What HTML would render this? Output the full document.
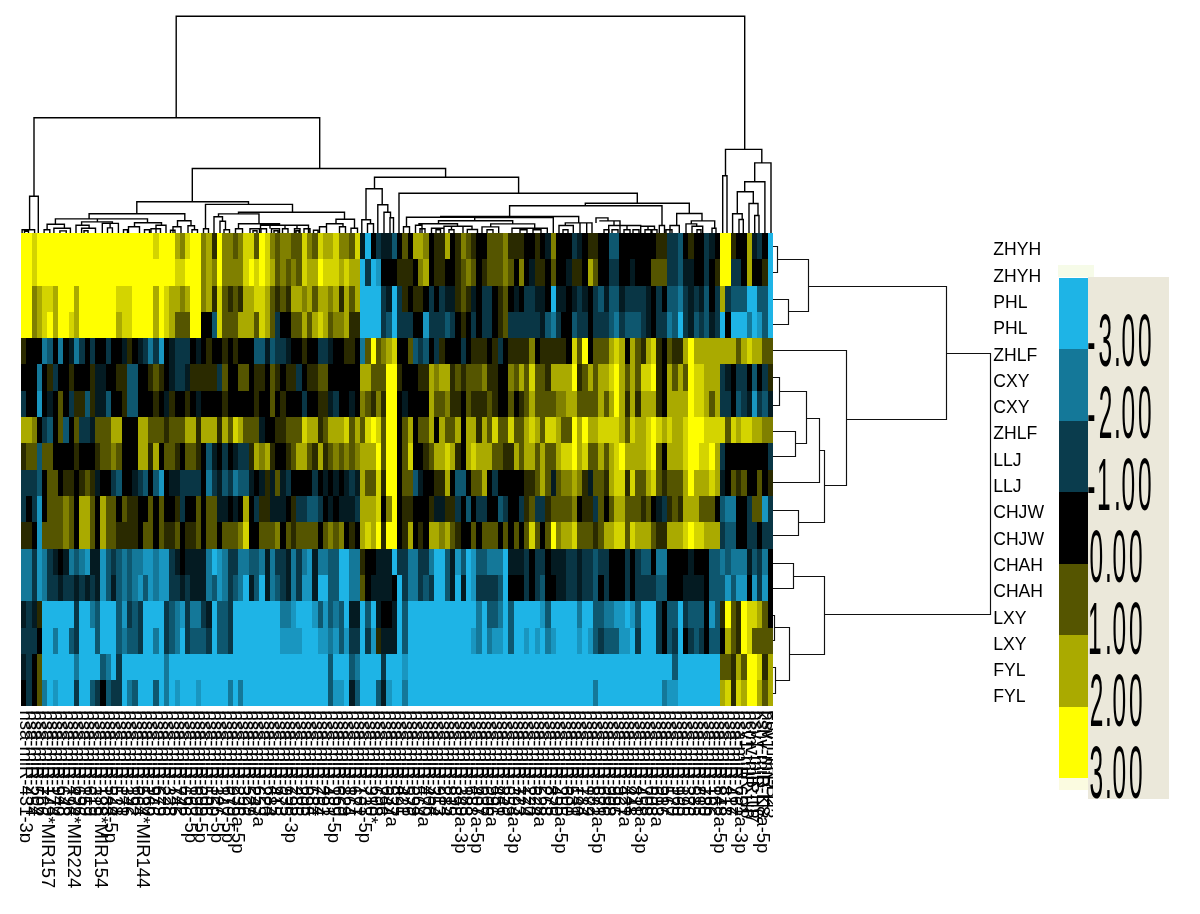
<!DOCTYPE html><html><head><meta charset="utf-8"><title>Heatmap</title><style>html,body{margin:0;padding:0;background:#fff;}body{width:1200px;height:914px;overflow:hidden;position:relative;}svg{position:absolute;left:0;top:0;}text{font-family:"Liberation Sans",Arial,sans-serif;}</style></head><body>
<svg width="1200" height="914" viewBox="0 0 1200 914">
<defs><clipPath id="lc"><rect x="20" y="705" width="753" height="200"/></clipPath></defs>
<g shape-rendering="crispEdges">
<rect x="21" y="233" width="11" height="26" fill="#ffff00"/>
<rect x="32" y="233" width="5" height="26" fill="#d4d400"/>
<rect x="37" y="233" width="116" height="26" fill="#ffff00"/>
<rect x="153" y="233" width="6" height="26" fill="#d4d400"/>
<rect x="159" y="233" width="16" height="26" fill="#ffff00"/>
<rect x="175" y="233" width="5" height="26" fill="#aaaa00"/>
<rect x="180" y="233" width="5" height="26" fill="#808000"/>
<rect x="185" y="233" width="5" height="26" fill="#d4d400"/>
<rect x="190" y="233" width="11" height="26" fill="#ffff00"/>
<rect x="201" y="233" width="5" height="26" fill="#808000"/>
<rect x="206" y="233" width="6" height="26" fill="#aaaa00"/>
<rect x="212" y="233" width="5" height="26" fill="#2a2a00"/>
<rect x="217" y="233" width="5" height="26" fill="#ffff00"/>
<rect x="222" y="233" width="11" height="26" fill="#808000"/>
<rect x="233" y="233" width="5" height="26" fill="#555500"/>
<rect x="238" y="233" width="5" height="26" fill="#808000"/>
<rect x="243" y="233" width="11" height="26" fill="#d4d400"/>
<rect x="254" y="233" width="5" height="26" fill="#555500"/>
<rect x="259" y="233" width="6" height="26" fill="#ffff00"/>
<rect x="265" y="233" width="5" height="26" fill="#d4d400"/>
<rect x="270" y="233" width="5" height="26" fill="#808000"/>
<rect x="275" y="233" width="5" height="26" fill="#555500"/>
<rect x="280" y="233" width="11" height="26" fill="#808000"/>
<rect x="291" y="233" width="11" height="26" fill="#555500"/>
<rect x="302" y="233" width="5" height="26" fill="#d4d400"/>
<rect x="307" y="233" width="5" height="26" fill="#808000"/>
<rect x="312" y="233" width="6" height="26" fill="#555500"/>
<rect x="318" y="233" width="5" height="26" fill="#d4d400"/>
<rect x="323" y="233" width="10" height="26" fill="#aaaa00"/>
<rect x="333" y="233" width="6" height="26" fill="#d4d400"/>
<rect x="339" y="233" width="10" height="26" fill="#808000"/>
<rect x="349" y="233" width="6" height="26" fill="#555500"/>
<rect x="355" y="233" width="5" height="26" fill="#d4d400"/>
<rect x="360" y="233" width="5" height="26" fill="#041b22"/>
<rect x="365" y="233" width="6" height="26" fill="#1eb4e6"/>
<rect x="371" y="233" width="5" height="26" fill="#000000"/>
<rect x="376" y="233" width="5" height="26" fill="#093645"/>
<rect x="381" y="233" width="11" height="26" fill="#041b22"/>
<rect x="392" y="233" width="5" height="26" fill="#0e576f"/>
<rect x="397" y="233" width="5" height="26" fill="#000000"/>
<rect x="402" y="233" width="6" height="26" fill="#555500"/>
<rect x="408" y="233" width="5" height="26" fill="#000000"/>
<rect x="413" y="233" width="10" height="26" fill="#aaaa00"/>
<rect x="423" y="233" width="6" height="26" fill="#808000"/>
<rect x="429" y="233" width="5" height="26" fill="#000000"/>
<rect x="434" y="233" width="11" height="26" fill="#2a2a00"/>
<rect x="445" y="233" width="5" height="26" fill="#aaaa00"/>
<rect x="450" y="233" width="5" height="26" fill="#000000"/>
<rect x="455" y="233" width="6" height="26" fill="#2a2a00"/>
<rect x="461" y="233" width="5" height="26" fill="#808000"/>
<rect x="466" y="233" width="5" height="26" fill="#555500"/>
<rect x="471" y="233" width="5" height="26" fill="#2a2a00"/>
<rect x="476" y="233" width="11" height="26" fill="#000000"/>
<rect x="487" y="233" width="16" height="26" fill="#555500"/>
<rect x="503" y="233" width="5" height="26" fill="#808000"/>
<rect x="508" y="233" width="16" height="26" fill="#2a2a00"/>
<rect x="524" y="233" width="11" height="26" fill="#000000"/>
<rect x="535" y="233" width="5" height="26" fill="#2a2a00"/>
<rect x="540" y="233" width="5" height="26" fill="#000000"/>
<rect x="545" y="233" width="6" height="26" fill="#041b22"/>
<rect x="551" y="233" width="5" height="26" fill="#808000"/>
<rect x="556" y="233" width="16" height="26" fill="#000000"/>
<rect x="572" y="233" width="5" height="26" fill="#093645"/>
<rect x="577" y="233" width="5" height="26" fill="#041b22"/>
<rect x="582" y="233" width="6" height="26" fill="#000000"/>
<rect x="588" y="233" width="10" height="26" fill="#2a2a00"/>
<rect x="598" y="233" width="11" height="26" fill="#000000"/>
<rect x="609" y="233" width="10" height="26" fill="#0e576f"/>
<rect x="619" y="233" width="37" height="26" fill="#000000"/>
<rect x="656" y="233" width="11" height="26" fill="#2a2a00"/>
<rect x="667" y="233" width="11" height="26" fill="#093645"/>
<rect x="678" y="233" width="5" height="26" fill="#0e576f"/>
<rect x="683" y="233" width="5" height="26" fill="#000000"/>
<rect x="688" y="233" width="6" height="26" fill="#2a2a00"/>
<rect x="694" y="233" width="10" height="26" fill="#000000"/>
<rect x="704" y="233" width="5" height="26" fill="#093645"/>
<rect x="709" y="233" width="6" height="26" fill="#041b22"/>
<rect x="715" y="233" width="5" height="26" fill="#000000"/>
<rect x="720" y="233" width="11" height="26" fill="#ffff00"/>
<rect x="731" y="233" width="5" height="26" fill="#2a2a00"/>
<rect x="736" y="233" width="11" height="26" fill="#000000"/>
<rect x="747" y="233" width="5" height="26" fill="#aaaa00"/>
<rect x="752" y="233" width="5" height="26" fill="#041b22"/>
<rect x="757" y="233" width="5" height="26" fill="#093645"/>
<rect x="762" y="233" width="6" height="26" fill="#000000"/>
<rect x="768" y="233" width="5" height="26" fill="#1eb4e6"/>
<rect x="21" y="259" width="11" height="27" fill="#ffff00"/>
<rect x="32" y="259" width="5" height="27" fill="#d4d400"/>
<rect x="37" y="259" width="138" height="27" fill="#ffff00"/>
<rect x="175" y="259" width="10" height="27" fill="#d4d400"/>
<rect x="185" y="259" width="16" height="27" fill="#ffff00"/>
<rect x="201" y="259" width="5" height="27" fill="#808000"/>
<rect x="206" y="259" width="6" height="27" fill="#aaaa00"/>
<rect x="212" y="259" width="5" height="27" fill="#808000"/>
<rect x="217" y="259" width="5" height="27" fill="#ffff00"/>
<rect x="222" y="259" width="21" height="27" fill="#808000"/>
<rect x="243" y="259" width="6" height="27" fill="#d4d400"/>
<rect x="249" y="259" width="5" height="27" fill="#ffff00"/>
<rect x="254" y="259" width="5" height="27" fill="#d4d400"/>
<rect x="259" y="259" width="6" height="27" fill="#ffff00"/>
<rect x="265" y="259" width="5" height="27" fill="#d4d400"/>
<rect x="270" y="259" width="5" height="27" fill="#aaaa00"/>
<rect x="275" y="259" width="5" height="27" fill="#555500"/>
<rect x="280" y="259" width="6" height="27" fill="#808000"/>
<rect x="286" y="259" width="5" height="27" fill="#555500"/>
<rect x="291" y="259" width="5" height="27" fill="#808000"/>
<rect x="296" y="259" width="6" height="27" fill="#555500"/>
<rect x="302" y="259" width="5" height="27" fill="#d4d400"/>
<rect x="307" y="259" width="11" height="27" fill="#aaaa00"/>
<rect x="318" y="259" width="5" height="27" fill="#ffff00"/>
<rect x="323" y="259" width="16" height="27" fill="#d4d400"/>
<rect x="339" y="259" width="5" height="27" fill="#aaaa00"/>
<rect x="344" y="259" width="5" height="27" fill="#d4d400"/>
<rect x="349" y="259" width="11" height="27" fill="#aaaa00"/>
<rect x="360" y="259" width="5" height="27" fill="#1eb4e6"/>
<rect x="365" y="259" width="6" height="27" fill="#093645"/>
<rect x="371" y="259" width="5" height="27" fill="#1eb4e6"/>
<rect x="376" y="259" width="5" height="27" fill="#1996c0"/>
<rect x="381" y="259" width="16" height="27" fill="#000000"/>
<rect x="397" y="259" width="16" height="27" fill="#2a2a00"/>
<rect x="413" y="259" width="5" height="27" fill="#000000"/>
<rect x="418" y="259" width="5" height="27" fill="#808000"/>
<rect x="423" y="259" width="6" height="27" fill="#aaaa00"/>
<rect x="429" y="259" width="5" height="27" fill="#000000"/>
<rect x="434" y="259" width="11" height="27" fill="#2a2a00"/>
<rect x="445" y="259" width="10" height="27" fill="#000000"/>
<rect x="455" y="259" width="6" height="27" fill="#2a2a00"/>
<rect x="461" y="259" width="5" height="27" fill="#555500"/>
<rect x="466" y="259" width="5" height="27" fill="#808000"/>
<rect x="471" y="259" width="5" height="27" fill="#555500"/>
<rect x="476" y="259" width="6" height="27" fill="#000000"/>
<rect x="482" y="259" width="5" height="27" fill="#2a2a00"/>
<rect x="487" y="259" width="16" height="27" fill="#555500"/>
<rect x="503" y="259" width="5" height="27" fill="#808000"/>
<rect x="508" y="259" width="6" height="27" fill="#555500"/>
<rect x="514" y="259" width="5" height="27" fill="#000000"/>
<rect x="519" y="259" width="5" height="27" fill="#808000"/>
<rect x="524" y="259" width="5" height="27" fill="#000000"/>
<rect x="529" y="259" width="6" height="27" fill="#041b22"/>
<rect x="535" y="259" width="10" height="27" fill="#2a2a00"/>
<rect x="545" y="259" width="6" height="27" fill="#000000"/>
<rect x="551" y="259" width="5" height="27" fill="#555500"/>
<rect x="556" y="259" width="10" height="27" fill="#000000"/>
<rect x="566" y="259" width="6" height="27" fill="#041b22"/>
<rect x="572" y="259" width="10" height="27" fill="#2a2a00"/>
<rect x="582" y="259" width="6" height="27" fill="#000000"/>
<rect x="588" y="259" width="5" height="27" fill="#aaaa00"/>
<rect x="593" y="259" width="5" height="27" fill="#555500"/>
<rect x="598" y="259" width="11" height="27" fill="#000000"/>
<rect x="609" y="259" width="10" height="27" fill="#093645"/>
<rect x="619" y="259" width="11" height="27" fill="#000000"/>
<rect x="630" y="259" width="5" height="27" fill="#041b22"/>
<rect x="635" y="259" width="16" height="27" fill="#000000"/>
<rect x="651" y="259" width="16" height="27" fill="#555500"/>
<rect x="667" y="259" width="11" height="27" fill="#093645"/>
<rect x="678" y="259" width="5" height="27" fill="#0e576f"/>
<rect x="683" y="259" width="11" height="27" fill="#041b22"/>
<rect x="694" y="259" width="10" height="27" fill="#000000"/>
<rect x="704" y="259" width="5" height="27" fill="#093645"/>
<rect x="709" y="259" width="6" height="27" fill="#000000"/>
<rect x="715" y="259" width="5" height="27" fill="#2a2a00"/>
<rect x="720" y="259" width="11" height="27" fill="#ffff00"/>
<rect x="731" y="259" width="10" height="27" fill="#093645"/>
<rect x="741" y="259" width="6" height="27" fill="#000000"/>
<rect x="747" y="259" width="5" height="27" fill="#aaaa00"/>
<rect x="752" y="259" width="10" height="27" fill="#000000"/>
<rect x="762" y="259" width="6" height="27" fill="#2a2a00"/>
<rect x="768" y="259" width="5" height="27" fill="#1eb4e6"/>
<rect x="21" y="286" width="11" height="26" fill="#ffff00"/>
<rect x="32" y="286" width="5" height="26" fill="#808000"/>
<rect x="37" y="286" width="5" height="26" fill="#aaaa00"/>
<rect x="42" y="286" width="11" height="26" fill="#d4d400"/>
<rect x="53" y="286" width="5" height="26" fill="#aaaa00"/>
<rect x="58" y="286" width="16" height="26" fill="#ffff00"/>
<rect x="74" y="286" width="5" height="26" fill="#aaaa00"/>
<rect x="79" y="286" width="37" height="26" fill="#ffff00"/>
<rect x="116" y="286" width="16" height="26" fill="#d4d400"/>
<rect x="132" y="286" width="21" height="26" fill="#ffff00"/>
<rect x="153" y="286" width="6" height="26" fill="#aaaa00"/>
<rect x="159" y="286" width="5" height="26" fill="#ffff00"/>
<rect x="164" y="286" width="5" height="26" fill="#d4d400"/>
<rect x="169" y="286" width="11" height="26" fill="#aaaa00"/>
<rect x="180" y="286" width="5" height="26" fill="#808000"/>
<rect x="185" y="286" width="5" height="26" fill="#aaaa00"/>
<rect x="190" y="286" width="11" height="26" fill="#ffff00"/>
<rect x="201" y="286" width="5" height="26" fill="#808000"/>
<rect x="206" y="286" width="6" height="26" fill="#aaaa00"/>
<rect x="212" y="286" width="5" height="26" fill="#2a2a00"/>
<rect x="217" y="286" width="5" height="26" fill="#d4d400"/>
<rect x="222" y="286" width="6" height="26" fill="#555500"/>
<rect x="228" y="286" width="5" height="26" fill="#2a2a00"/>
<rect x="233" y="286" width="5" height="26" fill="#555500"/>
<rect x="238" y="286" width="5" height="26" fill="#2a2a00"/>
<rect x="243" y="286" width="11" height="26" fill="#aaaa00"/>
<rect x="254" y="286" width="11" height="26" fill="#d4d400"/>
<rect x="265" y="286" width="5" height="26" fill="#aaaa00"/>
<rect x="270" y="286" width="5" height="26" fill="#555500"/>
<rect x="275" y="286" width="5" height="26" fill="#2a2a00"/>
<rect x="280" y="286" width="6" height="26" fill="#555500"/>
<rect x="286" y="286" width="5" height="26" fill="#2a2a00"/>
<rect x="291" y="286" width="11" height="26" fill="#aaaa00"/>
<rect x="302" y="286" width="5" height="26" fill="#808000"/>
<rect x="307" y="286" width="5" height="26" fill="#aaaa00"/>
<rect x="312" y="286" width="6" height="26" fill="#555500"/>
<rect x="318" y="286" width="10" height="26" fill="#aaaa00"/>
<rect x="328" y="286" width="5" height="26" fill="#808000"/>
<rect x="333" y="286" width="6" height="26" fill="#aaaa00"/>
<rect x="339" y="286" width="5" height="26" fill="#2a2a00"/>
<rect x="344" y="286" width="5" height="26" fill="#aaaa00"/>
<rect x="349" y="286" width="6" height="26" fill="#555500"/>
<rect x="355" y="286" width="5" height="26" fill="#aaaa00"/>
<rect x="360" y="286" width="21" height="26" fill="#1eb4e6"/>
<rect x="381" y="286" width="5" height="26" fill="#093645"/>
<rect x="386" y="286" width="6" height="26" fill="#041b22"/>
<rect x="392" y="286" width="5" height="26" fill="#1eb4e6"/>
<rect x="397" y="286" width="5" height="26" fill="#093645"/>
<rect x="402" y="286" width="6" height="26" fill="#2a2a00"/>
<rect x="408" y="286" width="5" height="26" fill="#000000"/>
<rect x="413" y="286" width="10" height="26" fill="#2a2a00"/>
<rect x="423" y="286" width="6" height="26" fill="#000000"/>
<rect x="429" y="286" width="5" height="26" fill="#093645"/>
<rect x="434" y="286" width="5" height="26" fill="#000000"/>
<rect x="439" y="286" width="6" height="26" fill="#093645"/>
<rect x="445" y="286" width="10" height="26" fill="#041b22"/>
<rect x="455" y="286" width="6" height="26" fill="#2a2a00"/>
<rect x="461" y="286" width="5" height="26" fill="#555500"/>
<rect x="466" y="286" width="5" height="26" fill="#2a2a00"/>
<rect x="471" y="286" width="5" height="26" fill="#041b22"/>
<rect x="476" y="286" width="6" height="26" fill="#000000"/>
<rect x="482" y="286" width="10" height="26" fill="#093645"/>
<rect x="492" y="286" width="6" height="26" fill="#000000"/>
<rect x="498" y="286" width="5" height="26" fill="#2a2a00"/>
<rect x="503" y="286" width="5" height="26" fill="#555500"/>
<rect x="508" y="286" width="6" height="26" fill="#000000"/>
<rect x="514" y="286" width="5" height="26" fill="#041b22"/>
<rect x="519" y="286" width="5" height="26" fill="#000000"/>
<rect x="524" y="286" width="11" height="26" fill="#093645"/>
<rect x="535" y="286" width="10" height="26" fill="#041b22"/>
<rect x="545" y="286" width="6" height="26" fill="#000000"/>
<rect x="551" y="286" width="5" height="26" fill="#1eb4e6"/>
<rect x="556" y="286" width="10" height="26" fill="#041b22"/>
<rect x="566" y="286" width="6" height="26" fill="#000000"/>
<rect x="572" y="286" width="5" height="26" fill="#041b22"/>
<rect x="577" y="286" width="5" height="26" fill="#093645"/>
<rect x="582" y="286" width="6" height="26" fill="#041b22"/>
<rect x="588" y="286" width="5" height="26" fill="#000000"/>
<rect x="593" y="286" width="5" height="26" fill="#093645"/>
<rect x="598" y="286" width="6" height="26" fill="#0e576f"/>
<rect x="604" y="286" width="5" height="26" fill="#041b22"/>
<rect x="609" y="286" width="10" height="26" fill="#0e576f"/>
<rect x="619" y="286" width="6" height="26" fill="#041b22"/>
<rect x="625" y="286" width="21" height="26" fill="#093645"/>
<rect x="646" y="286" width="5" height="26" fill="#041b22"/>
<rect x="651" y="286" width="5" height="26" fill="#000000"/>
<rect x="656" y="286" width="6" height="26" fill="#093645"/>
<rect x="662" y="286" width="5" height="26" fill="#000000"/>
<rect x="667" y="286" width="11" height="26" fill="#0e576f"/>
<rect x="678" y="286" width="5" height="26" fill="#147899"/>
<rect x="683" y="286" width="5" height="26" fill="#093645"/>
<rect x="688" y="286" width="6" height="26" fill="#041b22"/>
<rect x="694" y="286" width="5" height="26" fill="#093645"/>
<rect x="699" y="286" width="5" height="26" fill="#041b22"/>
<rect x="704" y="286" width="5" height="26" fill="#0e576f"/>
<rect x="709" y="286" width="6" height="26" fill="#000000"/>
<rect x="715" y="286" width="5" height="26" fill="#093645"/>
<rect x="720" y="286" width="5" height="26" fill="#aaaa00"/>
<rect x="725" y="286" width="6" height="26" fill="#093645"/>
<rect x="731" y="286" width="16" height="26" fill="#0e576f"/>
<rect x="747" y="286" width="10" height="26" fill="#1eb4e6"/>
<rect x="757" y="286" width="11" height="26" fill="#0e576f"/>
<rect x="768" y="286" width="5" height="26" fill="#1eb4e6"/>
<rect x="21" y="312" width="11" height="26" fill="#ffff00"/>
<rect x="32" y="312" width="5" height="26" fill="#808000"/>
<rect x="37" y="312" width="5" height="26" fill="#aaaa00"/>
<rect x="42" y="312" width="5" height="26" fill="#d4d400"/>
<rect x="47" y="312" width="6" height="26" fill="#ffff00"/>
<rect x="53" y="312" width="5" height="26" fill="#aaaa00"/>
<rect x="58" y="312" width="11" height="26" fill="#ffff00"/>
<rect x="69" y="312" width="5" height="26" fill="#d4d400"/>
<rect x="74" y="312" width="5" height="26" fill="#aaaa00"/>
<rect x="79" y="312" width="37" height="26" fill="#ffff00"/>
<rect x="116" y="312" width="6" height="26" fill="#aaaa00"/>
<rect x="122" y="312" width="10" height="26" fill="#d4d400"/>
<rect x="132" y="312" width="21" height="26" fill="#ffff00"/>
<rect x="153" y="312" width="6" height="26" fill="#aaaa00"/>
<rect x="159" y="312" width="5" height="26" fill="#ffff00"/>
<rect x="164" y="312" width="5" height="26" fill="#d4d400"/>
<rect x="169" y="312" width="6" height="26" fill="#aaaa00"/>
<rect x="175" y="312" width="15" height="26" fill="#555500"/>
<rect x="190" y="312" width="11" height="26" fill="#ffff00"/>
<rect x="201" y="312" width="11" height="26" fill="#000000"/>
<rect x="212" y="312" width="5" height="26" fill="#0e576f"/>
<rect x="217" y="312" width="5" height="26" fill="#d4d400"/>
<rect x="222" y="312" width="16" height="26" fill="#555500"/>
<rect x="238" y="312" width="16" height="26" fill="#aaaa00"/>
<rect x="254" y="312" width="5" height="26" fill="#555500"/>
<rect x="259" y="312" width="6" height="26" fill="#d4d400"/>
<rect x="265" y="312" width="5" height="26" fill="#aaaa00"/>
<rect x="270" y="312" width="5" height="26" fill="#555500"/>
<rect x="275" y="312" width="5" height="26" fill="#093645"/>
<rect x="280" y="312" width="11" height="26" fill="#000000"/>
<rect x="291" y="312" width="11" height="26" fill="#555500"/>
<rect x="302" y="312" width="5" height="26" fill="#aaaa00"/>
<rect x="307" y="312" width="5" height="26" fill="#555500"/>
<rect x="312" y="312" width="6" height="26" fill="#aaaa00"/>
<rect x="318" y="312" width="5" height="26" fill="#d4d400"/>
<rect x="323" y="312" width="5" height="26" fill="#aaaa00"/>
<rect x="328" y="312" width="5" height="26" fill="#555500"/>
<rect x="333" y="312" width="11" height="26" fill="#808000"/>
<rect x="344" y="312" width="5" height="26" fill="#aaaa00"/>
<rect x="349" y="312" width="11" height="26" fill="#2a2a00"/>
<rect x="360" y="312" width="21" height="26" fill="#1eb4e6"/>
<rect x="381" y="312" width="5" height="26" fill="#093645"/>
<rect x="386" y="312" width="6" height="26" fill="#0e576f"/>
<rect x="392" y="312" width="5" height="26" fill="#1eb4e6"/>
<rect x="397" y="312" width="16" height="26" fill="#093645"/>
<rect x="413" y="312" width="10" height="26" fill="#000000"/>
<rect x="423" y="312" width="6" height="26" fill="#1996c0"/>
<rect x="429" y="312" width="16" height="26" fill="#093645"/>
<rect x="445" y="312" width="5" height="26" fill="#0e576f"/>
<rect x="450" y="312" width="5" height="26" fill="#093645"/>
<rect x="455" y="312" width="6" height="26" fill="#000000"/>
<rect x="461" y="312" width="5" height="26" fill="#2a2a00"/>
<rect x="466" y="312" width="5" height="26" fill="#000000"/>
<rect x="471" y="312" width="5" height="26" fill="#093645"/>
<rect x="476" y="312" width="6" height="26" fill="#000000"/>
<rect x="482" y="312" width="10" height="26" fill="#093645"/>
<rect x="492" y="312" width="6" height="26" fill="#000000"/>
<rect x="498" y="312" width="5" height="26" fill="#2a2a00"/>
<rect x="503" y="312" width="5" height="26" fill="#555500"/>
<rect x="508" y="312" width="32" height="26" fill="#093645"/>
<rect x="540" y="312" width="5" height="26" fill="#041b22"/>
<rect x="545" y="312" width="6" height="26" fill="#0e576f"/>
<rect x="551" y="312" width="5" height="26" fill="#147899"/>
<rect x="556" y="312" width="5" height="26" fill="#093645"/>
<rect x="561" y="312" width="11" height="26" fill="#000000"/>
<rect x="572" y="312" width="5" height="26" fill="#0e576f"/>
<rect x="577" y="312" width="11" height="26" fill="#093645"/>
<rect x="588" y="312" width="5" height="26" fill="#000000"/>
<rect x="593" y="312" width="16" height="26" fill="#093645"/>
<rect x="609" y="312" width="5" height="26" fill="#0e576f"/>
<rect x="614" y="312" width="5" height="26" fill="#147899"/>
<rect x="619" y="312" width="6" height="26" fill="#093645"/>
<rect x="625" y="312" width="16" height="26" fill="#0e576f"/>
<rect x="641" y="312" width="5" height="26" fill="#093645"/>
<rect x="646" y="312" width="5" height="26" fill="#041b22"/>
<rect x="651" y="312" width="5" height="26" fill="#000000"/>
<rect x="656" y="312" width="11" height="26" fill="#093645"/>
<rect x="667" y="312" width="5" height="26" fill="#147899"/>
<rect x="672" y="312" width="6" height="26" fill="#0e576f"/>
<rect x="678" y="312" width="5" height="26" fill="#1eb4e6"/>
<rect x="683" y="312" width="5" height="26" fill="#093645"/>
<rect x="688" y="312" width="6" height="26" fill="#041b22"/>
<rect x="694" y="312" width="5" height="26" fill="#0e576f"/>
<rect x="699" y="312" width="5" height="26" fill="#093645"/>
<rect x="704" y="312" width="5" height="26" fill="#0e576f"/>
<rect x="709" y="312" width="6" height="26" fill="#041b22"/>
<rect x="715" y="312" width="5" height="26" fill="#093645"/>
<rect x="720" y="312" width="5" height="26" fill="#1eb4e6"/>
<rect x="725" y="312" width="6" height="26" fill="#000000"/>
<rect x="731" y="312" width="16" height="26" fill="#1eb4e6"/>
<rect x="747" y="312" width="5" height="26" fill="#147899"/>
<rect x="752" y="312" width="5" height="26" fill="#1eb4e6"/>
<rect x="757" y="312" width="5" height="26" fill="#1996c0"/>
<rect x="762" y="312" width="6" height="26" fill="#0e576f"/>
<rect x="768" y="312" width="5" height="26" fill="#1eb4e6"/>
<rect x="21" y="338" width="5" height="26" fill="#2a2a00"/>
<rect x="26" y="338" width="16" height="26" fill="#000000"/>
<rect x="42" y="338" width="5" height="26" fill="#147899"/>
<rect x="47" y="338" width="6" height="26" fill="#0e576f"/>
<rect x="53" y="338" width="5" height="26" fill="#000000"/>
<rect x="58" y="338" width="5" height="26" fill="#147899"/>
<rect x="63" y="338" width="6" height="26" fill="#000000"/>
<rect x="69" y="338" width="5" height="26" fill="#041b22"/>
<rect x="74" y="338" width="5" height="26" fill="#147899"/>
<rect x="79" y="338" width="6" height="26" fill="#093645"/>
<rect x="85" y="338" width="5" height="26" fill="#000000"/>
<rect x="90" y="338" width="5" height="26" fill="#093645"/>
<rect x="95" y="338" width="11" height="26" fill="#000000"/>
<rect x="106" y="338" width="5" height="26" fill="#093645"/>
<rect x="111" y="338" width="11" height="26" fill="#000000"/>
<rect x="122" y="338" width="5" height="26" fill="#041b22"/>
<rect x="127" y="338" width="5" height="26" fill="#2a2a00"/>
<rect x="132" y="338" width="6" height="26" fill="#000000"/>
<rect x="138" y="338" width="5" height="26" fill="#041b22"/>
<rect x="143" y="338" width="5" height="26" fill="#093645"/>
<rect x="148" y="338" width="5" height="26" fill="#147899"/>
<rect x="153" y="338" width="6" height="26" fill="#093645"/>
<rect x="159" y="338" width="5" height="26" fill="#1996c0"/>
<rect x="164" y="338" width="5" height="26" fill="#000000"/>
<rect x="169" y="338" width="6" height="26" fill="#041b22"/>
<rect x="175" y="338" width="15" height="26" fill="#093645"/>
<rect x="190" y="338" width="6" height="26" fill="#000000"/>
<rect x="196" y="338" width="5" height="26" fill="#041b22"/>
<rect x="201" y="338" width="5" height="26" fill="#000000"/>
<rect x="206" y="338" width="6" height="26" fill="#2a2a00"/>
<rect x="212" y="338" width="10" height="26" fill="#000000"/>
<rect x="222" y="338" width="6" height="26" fill="#2a2a00"/>
<rect x="228" y="338" width="5" height="26" fill="#000000"/>
<rect x="233" y="338" width="5" height="26" fill="#2a2a00"/>
<rect x="238" y="338" width="16" height="26" fill="#000000"/>
<rect x="254" y="338" width="11" height="26" fill="#0e576f"/>
<rect x="265" y="338" width="5" height="26" fill="#041b22"/>
<rect x="270" y="338" width="5" height="26" fill="#0e576f"/>
<rect x="275" y="338" width="11" height="26" fill="#093645"/>
<rect x="286" y="338" width="5" height="26" fill="#041b22"/>
<rect x="291" y="338" width="11" height="26" fill="#000000"/>
<rect x="302" y="338" width="5" height="26" fill="#2a2a00"/>
<rect x="307" y="338" width="11" height="26" fill="#000000"/>
<rect x="318" y="338" width="10" height="26" fill="#093645"/>
<rect x="328" y="338" width="5" height="26" fill="#041b22"/>
<rect x="333" y="338" width="11" height="26" fill="#000000"/>
<rect x="344" y="338" width="11" height="26" fill="#2a2a00"/>
<rect x="355" y="338" width="5" height="26" fill="#000000"/>
<rect x="360" y="338" width="5" height="26" fill="#147899"/>
<rect x="365" y="338" width="6" height="26" fill="#555500"/>
<rect x="371" y="338" width="5" height="26" fill="#ffff00"/>
<rect x="376" y="338" width="5" height="26" fill="#555500"/>
<rect x="381" y="338" width="5" height="26" fill="#808000"/>
<rect x="386" y="338" width="6" height="26" fill="#aaaa00"/>
<rect x="392" y="338" width="5" height="26" fill="#d4d400"/>
<rect x="397" y="338" width="11" height="26" fill="#000000"/>
<rect x="408" y="338" width="5" height="26" fill="#555500"/>
<rect x="413" y="338" width="5" height="26" fill="#0e576f"/>
<rect x="418" y="338" width="5" height="26" fill="#093645"/>
<rect x="423" y="338" width="6" height="26" fill="#0e576f"/>
<rect x="429" y="338" width="5" height="26" fill="#000000"/>
<rect x="434" y="338" width="5" height="26" fill="#093645"/>
<rect x="439" y="338" width="6" height="26" fill="#2a2a00"/>
<rect x="445" y="338" width="16" height="26" fill="#000000"/>
<rect x="461" y="338" width="5" height="26" fill="#093645"/>
<rect x="466" y="338" width="5" height="26" fill="#000000"/>
<rect x="471" y="338" width="16" height="26" fill="#2a2a00"/>
<rect x="487" y="338" width="5" height="26" fill="#000000"/>
<rect x="492" y="338" width="6" height="26" fill="#2a2a00"/>
<rect x="498" y="338" width="5" height="26" fill="#093645"/>
<rect x="503" y="338" width="5" height="26" fill="#000000"/>
<rect x="508" y="338" width="21" height="26" fill="#2a2a00"/>
<rect x="529" y="338" width="6" height="26" fill="#808000"/>
<rect x="535" y="338" width="5" height="26" fill="#000000"/>
<rect x="540" y="338" width="26" height="26" fill="#2a2a00"/>
<rect x="566" y="338" width="6" height="26" fill="#000000"/>
<rect x="572" y="338" width="5" height="26" fill="#d4d400"/>
<rect x="577" y="338" width="5" height="26" fill="#555500"/>
<rect x="582" y="338" width="6" height="26" fill="#ffff00"/>
<rect x="588" y="338" width="5" height="26" fill="#000000"/>
<rect x="593" y="338" width="16" height="26" fill="#555500"/>
<rect x="609" y="338" width="5" height="26" fill="#aaaa00"/>
<rect x="614" y="338" width="5" height="26" fill="#d4d400"/>
<rect x="619" y="338" width="6" height="26" fill="#aaaa00"/>
<rect x="625" y="338" width="5" height="26" fill="#000000"/>
<rect x="630" y="338" width="5" height="26" fill="#aaaa00"/>
<rect x="635" y="338" width="6" height="26" fill="#555500"/>
<rect x="641" y="338" width="5" height="26" fill="#2a2a00"/>
<rect x="646" y="338" width="5" height="26" fill="#aaaa00"/>
<rect x="651" y="338" width="5" height="26" fill="#d4d400"/>
<rect x="656" y="338" width="6" height="26" fill="#2a2a00"/>
<rect x="662" y="338" width="5" height="26" fill="#000000"/>
<rect x="667" y="338" width="5" height="26" fill="#555500"/>
<rect x="672" y="338" width="11" height="26" fill="#2a2a00"/>
<rect x="683" y="338" width="5" height="26" fill="#aaaa00"/>
<rect x="688" y="338" width="6" height="26" fill="#ffff00"/>
<rect x="694" y="338" width="42" height="26" fill="#aaaa00"/>
<rect x="736" y="338" width="5" height="26" fill="#555500"/>
<rect x="741" y="338" width="6" height="26" fill="#aaaa00"/>
<rect x="747" y="338" width="5" height="26" fill="#d4d400"/>
<rect x="752" y="338" width="10" height="26" fill="#aaaa00"/>
<rect x="762" y="338" width="11" height="26" fill="#555500"/>
<rect x="21" y="364" width="16" height="27" fill="#000000"/>
<rect x="37" y="364" width="5" height="27" fill="#147899"/>
<rect x="42" y="364" width="5" height="27" fill="#000000"/>
<rect x="47" y="364" width="6" height="27" fill="#2a2a00"/>
<rect x="53" y="364" width="5" height="27" fill="#093645"/>
<rect x="58" y="364" width="11" height="27" fill="#000000"/>
<rect x="69" y="364" width="5" height="27" fill="#2a2a00"/>
<rect x="74" y="364" width="16" height="27" fill="#000000"/>
<rect x="90" y="364" width="5" height="27" fill="#2a2a00"/>
<rect x="95" y="364" width="11" height="27" fill="#041b22"/>
<rect x="106" y="364" width="10" height="27" fill="#000000"/>
<rect x="116" y="364" width="11" height="27" fill="#2a2a00"/>
<rect x="127" y="364" width="11" height="27" fill="#0e576f"/>
<rect x="138" y="364" width="10" height="27" fill="#000000"/>
<rect x="148" y="364" width="5" height="27" fill="#2a2a00"/>
<rect x="153" y="364" width="6" height="27" fill="#555500"/>
<rect x="159" y="364" width="5" height="27" fill="#2a2a00"/>
<rect x="164" y="364" width="5" height="27" fill="#000000"/>
<rect x="169" y="364" width="6" height="27" fill="#041b22"/>
<rect x="175" y="364" width="10" height="27" fill="#093645"/>
<rect x="185" y="364" width="5" height="27" fill="#041b22"/>
<rect x="190" y="364" width="27" height="27" fill="#2a2a00"/>
<rect x="217" y="364" width="5" height="27" fill="#093645"/>
<rect x="222" y="364" width="6" height="27" fill="#555500"/>
<rect x="228" y="364" width="10" height="27" fill="#000000"/>
<rect x="238" y="364" width="11" height="27" fill="#555500"/>
<rect x="249" y="364" width="5" height="27" fill="#000000"/>
<rect x="254" y="364" width="11" height="27" fill="#2a2a00"/>
<rect x="265" y="364" width="5" height="27" fill="#000000"/>
<rect x="270" y="364" width="5" height="27" fill="#555500"/>
<rect x="275" y="364" width="5" height="27" fill="#2a2a00"/>
<rect x="280" y="364" width="6" height="27" fill="#000000"/>
<rect x="286" y="364" width="10" height="27" fill="#2a2a00"/>
<rect x="296" y="364" width="6" height="27" fill="#093645"/>
<rect x="302" y="364" width="5" height="27" fill="#000000"/>
<rect x="307" y="364" width="11" height="27" fill="#2a2a00"/>
<rect x="318" y="364" width="10" height="27" fill="#555500"/>
<rect x="328" y="364" width="32" height="27" fill="#000000"/>
<rect x="360" y="364" width="11" height="27" fill="#aaaa00"/>
<rect x="371" y="364" width="15" height="27" fill="#555500"/>
<rect x="386" y="364" width="11" height="27" fill="#ffff00"/>
<rect x="397" y="364" width="5" height="27" fill="#2a2a00"/>
<rect x="402" y="364" width="16" height="27" fill="#000000"/>
<rect x="418" y="364" width="11" height="27" fill="#2a2a00"/>
<rect x="429" y="364" width="5" height="27" fill="#aaaa00"/>
<rect x="434" y="364" width="5" height="27" fill="#808000"/>
<rect x="439" y="364" width="11" height="27" fill="#aaaa00"/>
<rect x="450" y="364" width="5" height="27" fill="#2a2a00"/>
<rect x="455" y="364" width="6" height="27" fill="#555500"/>
<rect x="461" y="364" width="5" height="27" fill="#2a2a00"/>
<rect x="466" y="364" width="16" height="27" fill="#555500"/>
<rect x="482" y="364" width="5" height="27" fill="#808000"/>
<rect x="487" y="364" width="11" height="27" fill="#2a2a00"/>
<rect x="498" y="364" width="10" height="27" fill="#000000"/>
<rect x="508" y="364" width="6" height="27" fill="#808000"/>
<rect x="514" y="364" width="5" height="27" fill="#555500"/>
<rect x="519" y="364" width="5" height="27" fill="#aaaa00"/>
<rect x="524" y="364" width="5" height="27" fill="#555500"/>
<rect x="529" y="364" width="6" height="27" fill="#d4d400"/>
<rect x="535" y="364" width="10" height="27" fill="#555500"/>
<rect x="545" y="364" width="6" height="27" fill="#2a2a00"/>
<rect x="551" y="364" width="21" height="27" fill="#aaaa00"/>
<rect x="572" y="364" width="5" height="27" fill="#ffff00"/>
<rect x="577" y="364" width="5" height="27" fill="#2a2a00"/>
<rect x="582" y="364" width="6" height="27" fill="#555500"/>
<rect x="588" y="364" width="5" height="27" fill="#aaaa00"/>
<rect x="593" y="364" width="5" height="27" fill="#555500"/>
<rect x="598" y="364" width="11" height="27" fill="#aaaa00"/>
<rect x="609" y="364" width="5" height="27" fill="#d4d400"/>
<rect x="614" y="364" width="5" height="27" fill="#ffff00"/>
<rect x="619" y="364" width="6" height="27" fill="#aaaa00"/>
<rect x="625" y="364" width="5" height="27" fill="#555500"/>
<rect x="630" y="364" width="5" height="27" fill="#aaaa00"/>
<rect x="635" y="364" width="6" height="27" fill="#555500"/>
<rect x="641" y="364" width="10" height="27" fill="#d4d400"/>
<rect x="651" y="364" width="5" height="27" fill="#ffff00"/>
<rect x="656" y="364" width="6" height="27" fill="#2a2a00"/>
<rect x="662" y="364" width="5" height="27" fill="#000000"/>
<rect x="667" y="364" width="5" height="27" fill="#aaaa00"/>
<rect x="672" y="364" width="6" height="27" fill="#555500"/>
<rect x="678" y="364" width="5" height="27" fill="#aaaa00"/>
<rect x="683" y="364" width="5" height="27" fill="#555500"/>
<rect x="688" y="364" width="6" height="27" fill="#ffff00"/>
<rect x="694" y="364" width="10" height="27" fill="#d4d400"/>
<rect x="704" y="364" width="16" height="27" fill="#aaaa00"/>
<rect x="720" y="364" width="5" height="27" fill="#093645"/>
<rect x="725" y="364" width="6" height="27" fill="#041b22"/>
<rect x="731" y="364" width="5" height="27" fill="#000000"/>
<rect x="736" y="364" width="11" height="27" fill="#093645"/>
<rect x="747" y="364" width="5" height="27" fill="#000000"/>
<rect x="752" y="364" width="5" height="27" fill="#0e576f"/>
<rect x="757" y="364" width="5" height="27" fill="#000000"/>
<rect x="762" y="364" width="6" height="27" fill="#093645"/>
<rect x="768" y="364" width="5" height="27" fill="#2a2a00"/>
<rect x="21" y="391" width="5" height="26" fill="#093645"/>
<rect x="26" y="391" width="11" height="26" fill="#000000"/>
<rect x="37" y="391" width="5" height="26" fill="#1996c0"/>
<rect x="42" y="391" width="5" height="26" fill="#000000"/>
<rect x="47" y="391" width="6" height="26" fill="#041b22"/>
<rect x="53" y="391" width="5" height="26" fill="#000000"/>
<rect x="58" y="391" width="5" height="26" fill="#555500"/>
<rect x="63" y="391" width="6" height="26" fill="#000000"/>
<rect x="69" y="391" width="5" height="26" fill="#093645"/>
<rect x="74" y="391" width="11" height="26" fill="#2a2a00"/>
<rect x="85" y="391" width="5" height="26" fill="#0e576f"/>
<rect x="90" y="391" width="5" height="26" fill="#2a2a00"/>
<rect x="95" y="391" width="11" height="26" fill="#041b22"/>
<rect x="106" y="391" width="5" height="26" fill="#0e576f"/>
<rect x="111" y="391" width="11" height="26" fill="#000000"/>
<rect x="122" y="391" width="5" height="26" fill="#2a2a00"/>
<rect x="127" y="391" width="11" height="26" fill="#0e576f"/>
<rect x="138" y="391" width="15" height="26" fill="#000000"/>
<rect x="153" y="391" width="6" height="26" fill="#2a2a00"/>
<rect x="159" y="391" width="5" height="26" fill="#000000"/>
<rect x="164" y="391" width="5" height="26" fill="#041b22"/>
<rect x="169" y="391" width="6" height="26" fill="#2a2a00"/>
<rect x="175" y="391" width="10" height="26" fill="#000000"/>
<rect x="185" y="391" width="5" height="26" fill="#2a2a00"/>
<rect x="190" y="391" width="6" height="26" fill="#000000"/>
<rect x="196" y="391" width="5" height="26" fill="#041b22"/>
<rect x="201" y="391" width="21" height="26" fill="#000000"/>
<rect x="222" y="391" width="6" height="26" fill="#2a2a00"/>
<rect x="228" y="391" width="26" height="26" fill="#000000"/>
<rect x="254" y="391" width="5" height="26" fill="#2a2a00"/>
<rect x="259" y="391" width="11" height="26" fill="#000000"/>
<rect x="270" y="391" width="5" height="26" fill="#555500"/>
<rect x="275" y="391" width="5" height="26" fill="#000000"/>
<rect x="280" y="391" width="6" height="26" fill="#2a2a00"/>
<rect x="286" y="391" width="16" height="26" fill="#000000"/>
<rect x="302" y="391" width="5" height="26" fill="#093645"/>
<rect x="307" y="391" width="11" height="26" fill="#000000"/>
<rect x="318" y="391" width="10" height="26" fill="#2a2a00"/>
<rect x="328" y="391" width="5" height="26" fill="#041b22"/>
<rect x="333" y="391" width="6" height="26" fill="#093645"/>
<rect x="339" y="391" width="10" height="26" fill="#000000"/>
<rect x="349" y="391" width="6" height="26" fill="#041b22"/>
<rect x="355" y="391" width="5" height="26" fill="#000000"/>
<rect x="360" y="391" width="5" height="26" fill="#808000"/>
<rect x="365" y="391" width="6" height="26" fill="#555500"/>
<rect x="371" y="391" width="5" height="26" fill="#2a2a00"/>
<rect x="376" y="391" width="5" height="26" fill="#808000"/>
<rect x="381" y="391" width="5" height="26" fill="#2a2a00"/>
<rect x="386" y="391" width="11" height="26" fill="#ffff00"/>
<rect x="397" y="391" width="5" height="26" fill="#000000"/>
<rect x="402" y="391" width="6" height="26" fill="#041b22"/>
<rect x="408" y="391" width="21" height="26" fill="#000000"/>
<rect x="429" y="391" width="5" height="26" fill="#aaaa00"/>
<rect x="434" y="391" width="11" height="26" fill="#555500"/>
<rect x="445" y="391" width="5" height="26" fill="#808000"/>
<rect x="450" y="391" width="11" height="26" fill="#2a2a00"/>
<rect x="461" y="391" width="5" height="26" fill="#000000"/>
<rect x="466" y="391" width="5" height="26" fill="#555500"/>
<rect x="471" y="391" width="16" height="26" fill="#2a2a00"/>
<rect x="487" y="391" width="5" height="26" fill="#555500"/>
<rect x="492" y="391" width="6" height="26" fill="#2a2a00"/>
<rect x="498" y="391" width="10" height="26" fill="#000000"/>
<rect x="508" y="391" width="6" height="26" fill="#555500"/>
<rect x="514" y="391" width="5" height="26" fill="#000000"/>
<rect x="519" y="391" width="5" height="26" fill="#2a2a00"/>
<rect x="524" y="391" width="5" height="26" fill="#555500"/>
<rect x="529" y="391" width="6" height="26" fill="#aaaa00"/>
<rect x="535" y="391" width="21" height="26" fill="#555500"/>
<rect x="556" y="391" width="10" height="26" fill="#808000"/>
<rect x="566" y="391" width="11" height="26" fill="#aaaa00"/>
<rect x="577" y="391" width="21" height="26" fill="#555500"/>
<rect x="598" y="391" width="6" height="26" fill="#aaaa00"/>
<rect x="604" y="391" width="5" height="26" fill="#555500"/>
<rect x="609" y="391" width="5" height="26" fill="#aaaa00"/>
<rect x="614" y="391" width="5" height="26" fill="#ffff00"/>
<rect x="619" y="391" width="6" height="26" fill="#aaaa00"/>
<rect x="625" y="391" width="5" height="26" fill="#2a2a00"/>
<rect x="630" y="391" width="5" height="26" fill="#aaaa00"/>
<rect x="635" y="391" width="6" height="26" fill="#2a2a00"/>
<rect x="641" y="391" width="15" height="26" fill="#aaaa00"/>
<rect x="656" y="391" width="6" height="26" fill="#2a2a00"/>
<rect x="662" y="391" width="5" height="26" fill="#000000"/>
<rect x="667" y="391" width="21" height="26" fill="#aaaa00"/>
<rect x="688" y="391" width="6" height="26" fill="#ffff00"/>
<rect x="694" y="391" width="10" height="26" fill="#d4d400"/>
<rect x="704" y="391" width="5" height="26" fill="#aaaa00"/>
<rect x="709" y="391" width="6" height="26" fill="#555500"/>
<rect x="715" y="391" width="5" height="26" fill="#aaaa00"/>
<rect x="720" y="391" width="11" height="26" fill="#093645"/>
<rect x="731" y="391" width="5" height="26" fill="#000000"/>
<rect x="736" y="391" width="5" height="26" fill="#0e576f"/>
<rect x="741" y="391" width="6" height="26" fill="#093645"/>
<rect x="747" y="391" width="5" height="26" fill="#041b22"/>
<rect x="752" y="391" width="5" height="26" fill="#1996c0"/>
<rect x="757" y="391" width="5" height="26" fill="#093645"/>
<rect x="762" y="391" width="6" height="26" fill="#0e576f"/>
<rect x="768" y="391" width="5" height="26" fill="#041b22"/>
<rect x="21" y="417" width="11" height="26" fill="#aaaa00"/>
<rect x="32" y="417" width="5" height="26" fill="#808000"/>
<rect x="37" y="417" width="5" height="26" fill="#000000"/>
<rect x="42" y="417" width="5" height="26" fill="#093645"/>
<rect x="47" y="417" width="6" height="26" fill="#0e576f"/>
<rect x="53" y="417" width="5" height="26" fill="#000000"/>
<rect x="58" y="417" width="5" height="26" fill="#555500"/>
<rect x="63" y="417" width="6" height="26" fill="#0e576f"/>
<rect x="69" y="417" width="5" height="26" fill="#000000"/>
<rect x="74" y="417" width="5" height="26" fill="#555500"/>
<rect x="79" y="417" width="11" height="26" fill="#093645"/>
<rect x="90" y="417" width="5" height="26" fill="#041b22"/>
<rect x="95" y="417" width="16" height="26" fill="#555500"/>
<rect x="111" y="417" width="11" height="26" fill="#aaaa00"/>
<rect x="122" y="417" width="16" height="26" fill="#000000"/>
<rect x="138" y="417" width="10" height="26" fill="#aaaa00"/>
<rect x="148" y="417" width="16" height="26" fill="#555500"/>
<rect x="164" y="417" width="5" height="26" fill="#2a2a00"/>
<rect x="169" y="417" width="16" height="26" fill="#555500"/>
<rect x="185" y="417" width="11" height="26" fill="#aaaa00"/>
<rect x="196" y="417" width="5" height="26" fill="#2a2a00"/>
<rect x="201" y="417" width="16" height="26" fill="#aaaa00"/>
<rect x="217" y="417" width="5" height="26" fill="#2a2a00"/>
<rect x="222" y="417" width="6" height="26" fill="#aaaa00"/>
<rect x="228" y="417" width="5" height="26" fill="#555500"/>
<rect x="233" y="417" width="5" height="26" fill="#d4d400"/>
<rect x="238" y="417" width="5" height="26" fill="#aaaa00"/>
<rect x="243" y="417" width="16" height="26" fill="#555500"/>
<rect x="259" y="417" width="6" height="26" fill="#041b22"/>
<rect x="265" y="417" width="10" height="26" fill="#000000"/>
<rect x="275" y="417" width="11" height="26" fill="#2a2a00"/>
<rect x="286" y="417" width="16" height="26" fill="#555500"/>
<rect x="302" y="417" width="5" height="26" fill="#d4d400"/>
<rect x="307" y="417" width="11" height="26" fill="#aaaa00"/>
<rect x="318" y="417" width="5" height="26" fill="#2a2a00"/>
<rect x="323" y="417" width="5" height="26" fill="#555500"/>
<rect x="328" y="417" width="16" height="26" fill="#aaaa00"/>
<rect x="344" y="417" width="5" height="26" fill="#d4d400"/>
<rect x="349" y="417" width="6" height="26" fill="#555500"/>
<rect x="355" y="417" width="5" height="26" fill="#aaaa00"/>
<rect x="360" y="417" width="5" height="26" fill="#555500"/>
<rect x="365" y="417" width="6" height="26" fill="#d4d400"/>
<rect x="371" y="417" width="5" height="26" fill="#ffff00"/>
<rect x="376" y="417" width="5" height="26" fill="#d4d400"/>
<rect x="381" y="417" width="5" height="26" fill="#555500"/>
<rect x="386" y="417" width="11" height="26" fill="#ffff00"/>
<rect x="397" y="417" width="5" height="26" fill="#000000"/>
<rect x="402" y="417" width="6" height="26" fill="#555500"/>
<rect x="408" y="417" width="5" height="26" fill="#aaaa00"/>
<rect x="413" y="417" width="5" height="26" fill="#000000"/>
<rect x="418" y="417" width="11" height="26" fill="#555500"/>
<rect x="429" y="417" width="5" height="26" fill="#aaaa00"/>
<rect x="434" y="417" width="5" height="26" fill="#000000"/>
<rect x="439" y="417" width="6" height="26" fill="#aaaa00"/>
<rect x="445" y="417" width="10" height="26" fill="#555500"/>
<rect x="455" y="417" width="6" height="26" fill="#aaaa00"/>
<rect x="461" y="417" width="5" height="26" fill="#000000"/>
<rect x="466" y="417" width="10" height="26" fill="#aaaa00"/>
<rect x="476" y="417" width="6" height="26" fill="#2a2a00"/>
<rect x="482" y="417" width="5" height="26" fill="#aaaa00"/>
<rect x="487" y="417" width="5" height="26" fill="#555500"/>
<rect x="492" y="417" width="6" height="26" fill="#d4d400"/>
<rect x="498" y="417" width="10" height="26" fill="#555500"/>
<rect x="508" y="417" width="6" height="26" fill="#d4d400"/>
<rect x="514" y="417" width="10" height="26" fill="#555500"/>
<rect x="524" y="417" width="5" height="26" fill="#aaaa00"/>
<rect x="529" y="417" width="6" height="26" fill="#d4d400"/>
<rect x="535" y="417" width="5" height="26" fill="#aaaa00"/>
<rect x="540" y="417" width="5" height="26" fill="#555500"/>
<rect x="545" y="417" width="11" height="26" fill="#d4d400"/>
<rect x="556" y="417" width="5" height="26" fill="#aaaa00"/>
<rect x="561" y="417" width="11" height="26" fill="#555500"/>
<rect x="572" y="417" width="5" height="26" fill="#ffff00"/>
<rect x="577" y="417" width="5" height="26" fill="#aaaa00"/>
<rect x="582" y="417" width="6" height="26" fill="#ffff00"/>
<rect x="588" y="417" width="10" height="26" fill="#aaaa00"/>
<rect x="598" y="417" width="21" height="26" fill="#d4d400"/>
<rect x="619" y="417" width="6" height="26" fill="#aaaa00"/>
<rect x="625" y="417" width="5" height="26" fill="#555500"/>
<rect x="630" y="417" width="5" height="26" fill="#d4d400"/>
<rect x="635" y="417" width="11" height="26" fill="#aaaa00"/>
<rect x="646" y="417" width="5" height="26" fill="#d4d400"/>
<rect x="651" y="417" width="5" height="26" fill="#ffff00"/>
<rect x="656" y="417" width="6" height="26" fill="#d4d400"/>
<rect x="662" y="417" width="5" height="26" fill="#aaaa00"/>
<rect x="667" y="417" width="5" height="26" fill="#d4d400"/>
<rect x="672" y="417" width="11" height="26" fill="#aaaa00"/>
<rect x="683" y="417" width="5" height="26" fill="#d4d400"/>
<rect x="688" y="417" width="16" height="26" fill="#ffff00"/>
<rect x="704" y="417" width="21" height="26" fill="#d4d400"/>
<rect x="725" y="417" width="6" height="26" fill="#555500"/>
<rect x="731" y="417" width="5" height="26" fill="#d4d400"/>
<rect x="736" y="417" width="5" height="26" fill="#aaaa00"/>
<rect x="741" y="417" width="11" height="26" fill="#d4d400"/>
<rect x="752" y="417" width="10" height="26" fill="#aaaa00"/>
<rect x="762" y="417" width="11" height="26" fill="#808000"/>
<rect x="21" y="443" width="5" height="27" fill="#2a2a00"/>
<rect x="26" y="443" width="11" height="27" fill="#555500"/>
<rect x="37" y="443" width="5" height="27" fill="#0e576f"/>
<rect x="42" y="443" width="11" height="27" fill="#555500"/>
<rect x="53" y="443" width="21" height="27" fill="#000000"/>
<rect x="74" y="443" width="5" height="27" fill="#2a2a00"/>
<rect x="79" y="443" width="16" height="27" fill="#000000"/>
<rect x="95" y="443" width="5" height="27" fill="#2a2a00"/>
<rect x="100" y="443" width="11" height="27" fill="#555500"/>
<rect x="111" y="443" width="5" height="27" fill="#808000"/>
<rect x="116" y="443" width="6" height="27" fill="#555500"/>
<rect x="122" y="443" width="16" height="27" fill="#000000"/>
<rect x="138" y="443" width="10" height="27" fill="#aaaa00"/>
<rect x="148" y="443" width="5" height="27" fill="#2a2a00"/>
<rect x="153" y="443" width="6" height="27" fill="#aaaa00"/>
<rect x="159" y="443" width="5" height="27" fill="#000000"/>
<rect x="164" y="443" width="11" height="27" fill="#555500"/>
<rect x="175" y="443" width="5" height="27" fill="#2a2a00"/>
<rect x="180" y="443" width="5" height="27" fill="#000000"/>
<rect x="185" y="443" width="11" height="27" fill="#555500"/>
<rect x="196" y="443" width="5" height="27" fill="#2a2a00"/>
<rect x="201" y="443" width="5" height="27" fill="#000000"/>
<rect x="206" y="443" width="6" height="27" fill="#0e576f"/>
<rect x="212" y="443" width="5" height="27" fill="#041b22"/>
<rect x="217" y="443" width="5" height="27" fill="#000000"/>
<rect x="222" y="443" width="6" height="27" fill="#093645"/>
<rect x="228" y="443" width="5" height="27" fill="#000000"/>
<rect x="233" y="443" width="5" height="27" fill="#041b22"/>
<rect x="238" y="443" width="11" height="27" fill="#093645"/>
<rect x="249" y="443" width="5" height="27" fill="#2a2a00"/>
<rect x="254" y="443" width="5" height="27" fill="#aaaa00"/>
<rect x="259" y="443" width="6" height="27" fill="#808000"/>
<rect x="265" y="443" width="5" height="27" fill="#aaaa00"/>
<rect x="270" y="443" width="5" height="27" fill="#2a2a00"/>
<rect x="275" y="443" width="11" height="27" fill="#000000"/>
<rect x="286" y="443" width="5" height="27" fill="#2a2a00"/>
<rect x="291" y="443" width="5" height="27" fill="#555500"/>
<rect x="296" y="443" width="11" height="27" fill="#aaaa00"/>
<rect x="307" y="443" width="5" height="27" fill="#555500"/>
<rect x="312" y="443" width="6" height="27" fill="#2a2a00"/>
<rect x="318" y="443" width="5" height="27" fill="#aaaa00"/>
<rect x="323" y="443" width="5" height="27" fill="#2a2a00"/>
<rect x="328" y="443" width="5" height="27" fill="#555500"/>
<rect x="333" y="443" width="6" height="27" fill="#808000"/>
<rect x="339" y="443" width="5" height="27" fill="#555500"/>
<rect x="344" y="443" width="5" height="27" fill="#808000"/>
<rect x="349" y="443" width="6" height="27" fill="#555500"/>
<rect x="355" y="443" width="5" height="27" fill="#808000"/>
<rect x="360" y="443" width="16" height="27" fill="#aaaa00"/>
<rect x="376" y="443" width="5" height="27" fill="#ffff00"/>
<rect x="381" y="443" width="5" height="27" fill="#555500"/>
<rect x="386" y="443" width="11" height="27" fill="#ffff00"/>
<rect x="397" y="443" width="5" height="27" fill="#000000"/>
<rect x="402" y="443" width="6" height="27" fill="#555500"/>
<rect x="408" y="443" width="5" height="27" fill="#d4d400"/>
<rect x="413" y="443" width="10" height="27" fill="#000000"/>
<rect x="423" y="443" width="6" height="27" fill="#2a2a00"/>
<rect x="429" y="443" width="5" height="27" fill="#555500"/>
<rect x="434" y="443" width="11" height="27" fill="#aaaa00"/>
<rect x="445" y="443" width="5" height="27" fill="#d4d400"/>
<rect x="450" y="443" width="5" height="27" fill="#aaaa00"/>
<rect x="455" y="443" width="6" height="27" fill="#2a2a00"/>
<rect x="461" y="443" width="5" height="27" fill="#000000"/>
<rect x="466" y="443" width="5" height="27" fill="#aaaa00"/>
<rect x="471" y="443" width="5" height="27" fill="#d4d400"/>
<rect x="476" y="443" width="16" height="27" fill="#aaaa00"/>
<rect x="492" y="443" width="11" height="27" fill="#555500"/>
<rect x="503" y="443" width="11" height="27" fill="#2a2a00"/>
<rect x="514" y="443" width="5" height="27" fill="#aaaa00"/>
<rect x="519" y="443" width="5" height="27" fill="#555500"/>
<rect x="524" y="443" width="11" height="27" fill="#aaaa00"/>
<rect x="535" y="443" width="5" height="27" fill="#555500"/>
<rect x="540" y="443" width="5" height="27" fill="#aaaa00"/>
<rect x="545" y="443" width="11" height="27" fill="#555500"/>
<rect x="556" y="443" width="5" height="27" fill="#aaaa00"/>
<rect x="561" y="443" width="11" height="27" fill="#d4d400"/>
<rect x="572" y="443" width="5" height="27" fill="#ffff00"/>
<rect x="577" y="443" width="5" height="27" fill="#aaaa00"/>
<rect x="582" y="443" width="6" height="27" fill="#d4d400"/>
<rect x="588" y="443" width="10" height="27" fill="#555500"/>
<rect x="598" y="443" width="6" height="27" fill="#aaaa00"/>
<rect x="604" y="443" width="5" height="27" fill="#555500"/>
<rect x="609" y="443" width="5" height="27" fill="#aaaa00"/>
<rect x="614" y="443" width="5" height="27" fill="#d4d400"/>
<rect x="619" y="443" width="6" height="27" fill="#ffff00"/>
<rect x="625" y="443" width="21" height="27" fill="#aaaa00"/>
<rect x="646" y="443" width="5" height="27" fill="#d4d400"/>
<rect x="651" y="443" width="5" height="27" fill="#ffff00"/>
<rect x="656" y="443" width="6" height="27" fill="#555500"/>
<rect x="662" y="443" width="5" height="27" fill="#000000"/>
<rect x="667" y="443" width="16" height="27" fill="#aaaa00"/>
<rect x="683" y="443" width="5" height="27" fill="#d4d400"/>
<rect x="688" y="443" width="11" height="27" fill="#ffff00"/>
<rect x="699" y="443" width="10" height="27" fill="#d4d400"/>
<rect x="709" y="443" width="6" height="27" fill="#ffff00"/>
<rect x="715" y="443" width="5" height="27" fill="#aaaa00"/>
<rect x="720" y="443" width="5" height="27" fill="#093645"/>
<rect x="725" y="443" width="43" height="27" fill="#000000"/>
<rect x="768" y="443" width="5" height="27" fill="#093645"/>
<rect x="21" y="470" width="16" height="26" fill="#093645"/>
<rect x="37" y="470" width="5" height="26" fill="#0e576f"/>
<rect x="42" y="470" width="5" height="26" fill="#000000"/>
<rect x="47" y="470" width="11" height="26" fill="#555500"/>
<rect x="58" y="470" width="5" height="26" fill="#000000"/>
<rect x="63" y="470" width="11" height="26" fill="#2a2a00"/>
<rect x="74" y="470" width="5" height="26" fill="#000000"/>
<rect x="79" y="470" width="6" height="26" fill="#2a2a00"/>
<rect x="85" y="470" width="5" height="26" fill="#555500"/>
<rect x="90" y="470" width="5" height="26" fill="#2a2a00"/>
<rect x="95" y="470" width="5" height="26" fill="#041b22"/>
<rect x="100" y="470" width="11" height="26" fill="#000000"/>
<rect x="111" y="470" width="5" height="26" fill="#093645"/>
<rect x="116" y="470" width="6" height="26" fill="#0e576f"/>
<rect x="122" y="470" width="10" height="26" fill="#000000"/>
<rect x="132" y="470" width="6" height="26" fill="#041b22"/>
<rect x="138" y="470" width="5" height="26" fill="#093645"/>
<rect x="143" y="470" width="5" height="26" fill="#0e576f"/>
<rect x="148" y="470" width="5" height="26" fill="#000000"/>
<rect x="153" y="470" width="6" height="26" fill="#0e576f"/>
<rect x="159" y="470" width="5" height="26" fill="#1996c0"/>
<rect x="164" y="470" width="5" height="26" fill="#000000"/>
<rect x="169" y="470" width="11" height="26" fill="#041b22"/>
<rect x="180" y="470" width="21" height="26" fill="#093645"/>
<rect x="201" y="470" width="5" height="26" fill="#000000"/>
<rect x="206" y="470" width="6" height="26" fill="#147899"/>
<rect x="212" y="470" width="5" height="26" fill="#093645"/>
<rect x="217" y="470" width="5" height="26" fill="#041b22"/>
<rect x="222" y="470" width="6" height="26" fill="#0e576f"/>
<rect x="228" y="470" width="5" height="26" fill="#093645"/>
<rect x="233" y="470" width="5" height="26" fill="#147899"/>
<rect x="238" y="470" width="11" height="26" fill="#0e576f"/>
<rect x="249" y="470" width="5" height="26" fill="#041b22"/>
<rect x="254" y="470" width="5" height="26" fill="#000000"/>
<rect x="259" y="470" width="6" height="26" fill="#041b22"/>
<rect x="265" y="470" width="5" height="26" fill="#2a2a00"/>
<rect x="270" y="470" width="5" height="26" fill="#041b22"/>
<rect x="275" y="470" width="5" height="26" fill="#555500"/>
<rect x="280" y="470" width="6" height="26" fill="#041b22"/>
<rect x="286" y="470" width="5" height="26" fill="#093645"/>
<rect x="291" y="470" width="21" height="26" fill="#000000"/>
<rect x="312" y="470" width="6" height="26" fill="#093645"/>
<rect x="318" y="470" width="5" height="26" fill="#000000"/>
<rect x="323" y="470" width="5" height="26" fill="#041b22"/>
<rect x="328" y="470" width="5" height="26" fill="#000000"/>
<rect x="333" y="470" width="6" height="26" fill="#041b22"/>
<rect x="339" y="470" width="5" height="26" fill="#000000"/>
<rect x="344" y="470" width="5" height="26" fill="#041b22"/>
<rect x="349" y="470" width="6" height="26" fill="#093645"/>
<rect x="355" y="470" width="5" height="26" fill="#041b22"/>
<rect x="360" y="470" width="5" height="26" fill="#aaaa00"/>
<rect x="365" y="470" width="11" height="26" fill="#555500"/>
<rect x="376" y="470" width="5" height="26" fill="#d4d400"/>
<rect x="381" y="470" width="5" height="26" fill="#2a2a00"/>
<rect x="386" y="470" width="11" height="26" fill="#ffff00"/>
<rect x="397" y="470" width="5" height="26" fill="#000000"/>
<rect x="402" y="470" width="11" height="26" fill="#555500"/>
<rect x="413" y="470" width="5" height="26" fill="#0e576f"/>
<rect x="418" y="470" width="5" height="26" fill="#041b22"/>
<rect x="423" y="470" width="11" height="26" fill="#000000"/>
<rect x="434" y="470" width="11" height="26" fill="#2a2a00"/>
<rect x="445" y="470" width="5" height="26" fill="#aaaa00"/>
<rect x="450" y="470" width="5" height="26" fill="#000000"/>
<rect x="455" y="470" width="11" height="26" fill="#0e576f"/>
<rect x="466" y="470" width="5" height="26" fill="#000000"/>
<rect x="471" y="470" width="11" height="26" fill="#555500"/>
<rect x="482" y="470" width="5" height="26" fill="#aaaa00"/>
<rect x="487" y="470" width="5" height="26" fill="#000000"/>
<rect x="492" y="470" width="6" height="26" fill="#093645"/>
<rect x="498" y="470" width="26" height="26" fill="#000000"/>
<rect x="524" y="470" width="11" height="26" fill="#2a2a00"/>
<rect x="535" y="470" width="5" height="26" fill="#555500"/>
<rect x="540" y="470" width="5" height="26" fill="#aaaa00"/>
<rect x="545" y="470" width="6" height="26" fill="#555500"/>
<rect x="551" y="470" width="5" height="26" fill="#041b22"/>
<rect x="556" y="470" width="5" height="26" fill="#555500"/>
<rect x="561" y="470" width="11" height="26" fill="#808000"/>
<rect x="572" y="470" width="5" height="26" fill="#aaaa00"/>
<rect x="577" y="470" width="5" height="26" fill="#808000"/>
<rect x="582" y="470" width="6" height="26" fill="#2a2a00"/>
<rect x="588" y="470" width="5" height="26" fill="#041b22"/>
<rect x="593" y="470" width="11" height="26" fill="#555500"/>
<rect x="604" y="470" width="5" height="26" fill="#2a2a00"/>
<rect x="609" y="470" width="5" height="26" fill="#aaaa00"/>
<rect x="614" y="470" width="11" height="26" fill="#d4d400"/>
<rect x="625" y="470" width="5" height="26" fill="#2a2a00"/>
<rect x="630" y="470" width="5" height="26" fill="#d4d400"/>
<rect x="635" y="470" width="11" height="26" fill="#555500"/>
<rect x="646" y="470" width="5" height="26" fill="#aaaa00"/>
<rect x="651" y="470" width="5" height="26" fill="#d4d400"/>
<rect x="656" y="470" width="6" height="26" fill="#555500"/>
<rect x="662" y="470" width="5" height="26" fill="#2a2a00"/>
<rect x="667" y="470" width="16" height="26" fill="#555500"/>
<rect x="683" y="470" width="5" height="26" fill="#aaaa00"/>
<rect x="688" y="470" width="6" height="26" fill="#ffff00"/>
<rect x="694" y="470" width="15" height="26" fill="#aaaa00"/>
<rect x="709" y="470" width="6" height="26" fill="#d4d400"/>
<rect x="715" y="470" width="5" height="26" fill="#aaaa00"/>
<rect x="720" y="470" width="5" height="26" fill="#041b22"/>
<rect x="725" y="470" width="6" height="26" fill="#000000"/>
<rect x="731" y="470" width="5" height="26" fill="#555500"/>
<rect x="736" y="470" width="5" height="26" fill="#2a2a00"/>
<rect x="741" y="470" width="6" height="26" fill="#555500"/>
<rect x="747" y="470" width="10" height="26" fill="#000000"/>
<rect x="757" y="470" width="5" height="26" fill="#555500"/>
<rect x="762" y="470" width="6" height="26" fill="#000000"/>
<rect x="768" y="470" width="5" height="26" fill="#2a2a00"/>
<rect x="21" y="496" width="5" height="26" fill="#093645"/>
<rect x="26" y="496" width="6" height="26" fill="#000000"/>
<rect x="32" y="496" width="5" height="26" fill="#093645"/>
<rect x="37" y="496" width="5" height="26" fill="#1996c0"/>
<rect x="42" y="496" width="5" height="26" fill="#000000"/>
<rect x="47" y="496" width="16" height="26" fill="#555500"/>
<rect x="63" y="496" width="6" height="26" fill="#808000"/>
<rect x="69" y="496" width="5" height="26" fill="#555500"/>
<rect x="74" y="496" width="5" height="26" fill="#000000"/>
<rect x="79" y="496" width="11" height="26" fill="#aaaa00"/>
<rect x="90" y="496" width="5" height="26" fill="#555500"/>
<rect x="95" y="496" width="5" height="26" fill="#000000"/>
<rect x="100" y="496" width="6" height="26" fill="#aaaa00"/>
<rect x="106" y="496" width="10" height="26" fill="#555500"/>
<rect x="116" y="496" width="6" height="26" fill="#000000"/>
<rect x="122" y="496" width="5" height="26" fill="#555500"/>
<rect x="127" y="496" width="11" height="26" fill="#2a2a00"/>
<rect x="138" y="496" width="10" height="26" fill="#000000"/>
<rect x="148" y="496" width="5" height="26" fill="#555500"/>
<rect x="153" y="496" width="6" height="26" fill="#000000"/>
<rect x="159" y="496" width="5" height="26" fill="#555500"/>
<rect x="164" y="496" width="11" height="26" fill="#000000"/>
<rect x="175" y="496" width="5" height="26" fill="#2a2a00"/>
<rect x="180" y="496" width="5" height="26" fill="#093645"/>
<rect x="185" y="496" width="11" height="26" fill="#000000"/>
<rect x="196" y="496" width="5" height="26" fill="#555500"/>
<rect x="201" y="496" width="5" height="26" fill="#000000"/>
<rect x="206" y="496" width="11" height="26" fill="#555500"/>
<rect x="217" y="496" width="11" height="26" fill="#041b22"/>
<rect x="228" y="496" width="5" height="26" fill="#000000"/>
<rect x="233" y="496" width="5" height="26" fill="#041b22"/>
<rect x="238" y="496" width="5" height="26" fill="#000000"/>
<rect x="243" y="496" width="6" height="26" fill="#aaaa00"/>
<rect x="249" y="496" width="5" height="26" fill="#000000"/>
<rect x="254" y="496" width="5" height="26" fill="#093645"/>
<rect x="259" y="496" width="11" height="26" fill="#2a2a00"/>
<rect x="270" y="496" width="16" height="26" fill="#041b22"/>
<rect x="286" y="496" width="5" height="26" fill="#000000"/>
<rect x="291" y="496" width="5" height="26" fill="#2a2a00"/>
<rect x="296" y="496" width="11" height="26" fill="#093645"/>
<rect x="307" y="496" width="11" height="26" fill="#0e576f"/>
<rect x="318" y="496" width="5" height="26" fill="#093645"/>
<rect x="323" y="496" width="5" height="26" fill="#000000"/>
<rect x="328" y="496" width="5" height="26" fill="#041b22"/>
<rect x="333" y="496" width="6" height="26" fill="#000000"/>
<rect x="339" y="496" width="16" height="26" fill="#041b22"/>
<rect x="355" y="496" width="5" height="26" fill="#093645"/>
<rect x="360" y="496" width="16" height="26" fill="#aaaa00"/>
<rect x="376" y="496" width="5" height="26" fill="#d4d400"/>
<rect x="381" y="496" width="5" height="26" fill="#000000"/>
<rect x="386" y="496" width="6" height="26" fill="#808000"/>
<rect x="392" y="496" width="5" height="26" fill="#ffff00"/>
<rect x="397" y="496" width="5" height="26" fill="#000000"/>
<rect x="402" y="496" width="11" height="26" fill="#2a2a00"/>
<rect x="413" y="496" width="16" height="26" fill="#000000"/>
<rect x="429" y="496" width="5" height="26" fill="#2a2a00"/>
<rect x="434" y="496" width="11" height="26" fill="#041b22"/>
<rect x="445" y="496" width="10" height="26" fill="#2a2a00"/>
<rect x="455" y="496" width="6" height="26" fill="#093645"/>
<rect x="461" y="496" width="5" height="26" fill="#000000"/>
<rect x="466" y="496" width="5" height="26" fill="#0e576f"/>
<rect x="471" y="496" width="5" height="26" fill="#000000"/>
<rect x="476" y="496" width="11" height="26" fill="#093645"/>
<rect x="487" y="496" width="11" height="26" fill="#000000"/>
<rect x="498" y="496" width="5" height="26" fill="#0e576f"/>
<rect x="503" y="496" width="5" height="26" fill="#093645"/>
<rect x="508" y="496" width="11" height="26" fill="#000000"/>
<rect x="519" y="496" width="5" height="26" fill="#093645"/>
<rect x="524" y="496" width="5" height="26" fill="#2a2a00"/>
<rect x="529" y="496" width="6" height="26" fill="#555500"/>
<rect x="535" y="496" width="10" height="26" fill="#093645"/>
<rect x="545" y="496" width="6" height="26" fill="#2a2a00"/>
<rect x="551" y="496" width="21" height="26" fill="#555500"/>
<rect x="572" y="496" width="5" height="26" fill="#808000"/>
<rect x="577" y="496" width="5" height="26" fill="#000000"/>
<rect x="582" y="496" width="11" height="26" fill="#2a2a00"/>
<rect x="593" y="496" width="5" height="26" fill="#093645"/>
<rect x="598" y="496" width="6" height="26" fill="#555500"/>
<rect x="604" y="496" width="5" height="26" fill="#000000"/>
<rect x="609" y="496" width="5" height="26" fill="#555500"/>
<rect x="614" y="496" width="11" height="26" fill="#aaaa00"/>
<rect x="625" y="496" width="16" height="26" fill="#555500"/>
<rect x="641" y="496" width="5" height="26" fill="#2a2a00"/>
<rect x="646" y="496" width="5" height="26" fill="#555500"/>
<rect x="651" y="496" width="5" height="26" fill="#000000"/>
<rect x="656" y="496" width="6" height="26" fill="#041b22"/>
<rect x="662" y="496" width="5" height="26" fill="#093645"/>
<rect x="667" y="496" width="5" height="26" fill="#2a2a00"/>
<rect x="672" y="496" width="6" height="26" fill="#555500"/>
<rect x="678" y="496" width="5" height="26" fill="#2a2a00"/>
<rect x="683" y="496" width="16" height="26" fill="#aaaa00"/>
<rect x="699" y="496" width="16" height="26" fill="#555500"/>
<rect x="715" y="496" width="5" height="26" fill="#000000"/>
<rect x="720" y="496" width="5" height="26" fill="#0e576f"/>
<rect x="725" y="496" width="11" height="26" fill="#147899"/>
<rect x="736" y="496" width="11" height="26" fill="#000000"/>
<rect x="747" y="496" width="5" height="26" fill="#093645"/>
<rect x="752" y="496" width="10" height="26" fill="#555500"/>
<rect x="762" y="496" width="6" height="26" fill="#1996c0"/>
<rect x="768" y="496" width="5" height="26" fill="#093645"/>
<rect x="21" y="522" width="11" height="27" fill="#2a2a00"/>
<rect x="32" y="522" width="5" height="27" fill="#000000"/>
<rect x="37" y="522" width="5" height="27" fill="#1996c0"/>
<rect x="42" y="522" width="21" height="27" fill="#555500"/>
<rect x="63" y="522" width="6" height="27" fill="#808000"/>
<rect x="69" y="522" width="5" height="27" fill="#555500"/>
<rect x="74" y="522" width="5" height="27" fill="#000000"/>
<rect x="79" y="522" width="11" height="27" fill="#aaaa00"/>
<rect x="90" y="522" width="5" height="27" fill="#555500"/>
<rect x="95" y="522" width="5" height="27" fill="#000000"/>
<rect x="100" y="522" width="6" height="27" fill="#aaaa00"/>
<rect x="106" y="522" width="10" height="27" fill="#555500"/>
<rect x="116" y="522" width="22" height="27" fill="#2a2a00"/>
<rect x="138" y="522" width="5" height="27" fill="#000000"/>
<rect x="143" y="522" width="10" height="27" fill="#555500"/>
<rect x="153" y="522" width="6" height="27" fill="#000000"/>
<rect x="159" y="522" width="5" height="27" fill="#555500"/>
<rect x="164" y="522" width="11" height="27" fill="#2a2a00"/>
<rect x="175" y="522" width="5" height="27" fill="#555500"/>
<rect x="180" y="522" width="5" height="27" fill="#000000"/>
<rect x="185" y="522" width="11" height="27" fill="#2a2a00"/>
<rect x="196" y="522" width="5" height="27" fill="#555500"/>
<rect x="201" y="522" width="5" height="27" fill="#000000"/>
<rect x="206" y="522" width="11" height="27" fill="#555500"/>
<rect x="217" y="522" width="5" height="27" fill="#000000"/>
<rect x="222" y="522" width="16" height="27" fill="#555500"/>
<rect x="238" y="522" width="5" height="27" fill="#808000"/>
<rect x="243" y="522" width="6" height="27" fill="#d4d400"/>
<rect x="249" y="522" width="10" height="27" fill="#000000"/>
<rect x="259" y="522" width="16" height="27" fill="#555500"/>
<rect x="275" y="522" width="5" height="27" fill="#808000"/>
<rect x="280" y="522" width="6" height="27" fill="#000000"/>
<rect x="286" y="522" width="5" height="27" fill="#555500"/>
<rect x="291" y="522" width="5" height="27" fill="#2a2a00"/>
<rect x="296" y="522" width="22" height="27" fill="#555500"/>
<rect x="318" y="522" width="5" height="27" fill="#000000"/>
<rect x="323" y="522" width="5" height="27" fill="#555500"/>
<rect x="328" y="522" width="5" height="27" fill="#808000"/>
<rect x="333" y="522" width="6" height="27" fill="#555500"/>
<rect x="339" y="522" width="5" height="27" fill="#808000"/>
<rect x="344" y="522" width="5" height="27" fill="#000000"/>
<rect x="349" y="522" width="6" height="27" fill="#2a2a00"/>
<rect x="355" y="522" width="5" height="27" fill="#000000"/>
<rect x="360" y="522" width="5" height="27" fill="#aaaa00"/>
<rect x="365" y="522" width="6" height="27" fill="#d4d400"/>
<rect x="371" y="522" width="5" height="27" fill="#aaaa00"/>
<rect x="376" y="522" width="5" height="27" fill="#ffff00"/>
<rect x="381" y="522" width="5" height="27" fill="#2a2a00"/>
<rect x="386" y="522" width="11" height="27" fill="#ffff00"/>
<rect x="397" y="522" width="5" height="27" fill="#000000"/>
<rect x="402" y="522" width="6" height="27" fill="#2a2a00"/>
<rect x="408" y="522" width="5" height="27" fill="#aaaa00"/>
<rect x="413" y="522" width="5" height="27" fill="#000000"/>
<rect x="418" y="522" width="5" height="27" fill="#2a2a00"/>
<rect x="423" y="522" width="6" height="27" fill="#000000"/>
<rect x="429" y="522" width="10" height="27" fill="#aaaa00"/>
<rect x="439" y="522" width="6" height="27" fill="#808000"/>
<rect x="445" y="522" width="5" height="27" fill="#aaaa00"/>
<rect x="450" y="522" width="5" height="27" fill="#555500"/>
<rect x="455" y="522" width="6" height="27" fill="#2a2a00"/>
<rect x="461" y="522" width="10" height="27" fill="#000000"/>
<rect x="471" y="522" width="5" height="27" fill="#555500"/>
<rect x="476" y="522" width="6" height="27" fill="#000000"/>
<rect x="482" y="522" width="16" height="27" fill="#555500"/>
<rect x="498" y="522" width="5" height="27" fill="#000000"/>
<rect x="503" y="522" width="5" height="27" fill="#555500"/>
<rect x="508" y="522" width="6" height="27" fill="#000000"/>
<rect x="514" y="522" width="5" height="27" fill="#555500"/>
<rect x="519" y="522" width="5" height="27" fill="#000000"/>
<rect x="524" y="522" width="5" height="27" fill="#555500"/>
<rect x="529" y="522" width="6" height="27" fill="#d4d400"/>
<rect x="535" y="522" width="5" height="27" fill="#555500"/>
<rect x="540" y="522" width="5" height="27" fill="#000000"/>
<rect x="545" y="522" width="6" height="27" fill="#555500"/>
<rect x="551" y="522" width="5" height="27" fill="#ffff00"/>
<rect x="556" y="522" width="5" height="27" fill="#808000"/>
<rect x="561" y="522" width="11" height="27" fill="#aaaa00"/>
<rect x="572" y="522" width="5" height="27" fill="#d4d400"/>
<rect x="577" y="522" width="16" height="27" fill="#555500"/>
<rect x="593" y="522" width="5" height="27" fill="#2a2a00"/>
<rect x="598" y="522" width="6" height="27" fill="#555500"/>
<rect x="604" y="522" width="10" height="27" fill="#aaaa00"/>
<rect x="614" y="522" width="11" height="27" fill="#d4d400"/>
<rect x="625" y="522" width="5" height="27" fill="#555500"/>
<rect x="630" y="522" width="5" height="27" fill="#d4d400"/>
<rect x="635" y="522" width="16" height="27" fill="#aaaa00"/>
<rect x="651" y="522" width="5" height="27" fill="#555500"/>
<rect x="656" y="522" width="11" height="27" fill="#2a2a00"/>
<rect x="667" y="522" width="16" height="27" fill="#aaaa00"/>
<rect x="683" y="522" width="5" height="27" fill="#d4d400"/>
<rect x="688" y="522" width="6" height="27" fill="#ffff00"/>
<rect x="694" y="522" width="10" height="27" fill="#d4d400"/>
<rect x="704" y="522" width="16" height="27" fill="#aaaa00"/>
<rect x="720" y="522" width="5" height="27" fill="#093645"/>
<rect x="725" y="522" width="11" height="27" fill="#0e576f"/>
<rect x="736" y="522" width="11" height="27" fill="#000000"/>
<rect x="747" y="522" width="10" height="27" fill="#093645"/>
<rect x="757" y="522" width="5" height="27" fill="#000000"/>
<rect x="762" y="522" width="11" height="27" fill="#093645"/>
<rect x="21" y="549" width="11" height="26" fill="#147899"/>
<rect x="32" y="549" width="5" height="26" fill="#093645"/>
<rect x="37" y="549" width="5" height="26" fill="#1996c0"/>
<rect x="42" y="549" width="5" height="26" fill="#147899"/>
<rect x="47" y="549" width="6" height="26" fill="#093645"/>
<rect x="53" y="549" width="5" height="26" fill="#041b22"/>
<rect x="58" y="549" width="5" height="26" fill="#000000"/>
<rect x="63" y="549" width="6" height="26" fill="#041b22"/>
<rect x="69" y="549" width="5" height="26" fill="#147899"/>
<rect x="74" y="549" width="5" height="26" fill="#0e576f"/>
<rect x="79" y="549" width="6" height="26" fill="#147899"/>
<rect x="85" y="549" width="5" height="26" fill="#1996c0"/>
<rect x="90" y="549" width="10" height="26" fill="#041b22"/>
<rect x="100" y="549" width="6" height="26" fill="#1996c0"/>
<rect x="106" y="549" width="5" height="26" fill="#0e576f"/>
<rect x="111" y="549" width="5" height="26" fill="#093645"/>
<rect x="116" y="549" width="6" height="26" fill="#0e576f"/>
<rect x="122" y="549" width="5" height="26" fill="#147899"/>
<rect x="127" y="549" width="5" height="26" fill="#0e576f"/>
<rect x="132" y="549" width="11" height="26" fill="#147899"/>
<rect x="143" y="549" width="10" height="26" fill="#1996c0"/>
<rect x="153" y="549" width="6" height="26" fill="#147899"/>
<rect x="159" y="549" width="10" height="26" fill="#1996c0"/>
<rect x="169" y="549" width="6" height="26" fill="#093645"/>
<rect x="175" y="549" width="5" height="26" fill="#041b22"/>
<rect x="180" y="549" width="5" height="26" fill="#000000"/>
<rect x="185" y="549" width="21" height="26" fill="#041b22"/>
<rect x="206" y="549" width="6" height="26" fill="#147899"/>
<rect x="212" y="549" width="5" height="26" fill="#1eb4e6"/>
<rect x="217" y="549" width="5" height="26" fill="#1996c0"/>
<rect x="222" y="549" width="6" height="26" fill="#147899"/>
<rect x="228" y="549" width="10" height="26" fill="#093645"/>
<rect x="238" y="549" width="11" height="26" fill="#147899"/>
<rect x="249" y="549" width="10" height="26" fill="#0e576f"/>
<rect x="259" y="549" width="6" height="26" fill="#147899"/>
<rect x="265" y="549" width="5" height="26" fill="#041b22"/>
<rect x="270" y="549" width="5" height="26" fill="#147899"/>
<rect x="275" y="549" width="11" height="26" fill="#093645"/>
<rect x="286" y="549" width="5" height="26" fill="#041b22"/>
<rect x="291" y="549" width="5" height="26" fill="#147899"/>
<rect x="296" y="549" width="6" height="26" fill="#093645"/>
<rect x="302" y="549" width="5" height="26" fill="#147899"/>
<rect x="307" y="549" width="5" height="26" fill="#1996c0"/>
<rect x="312" y="549" width="6" height="26" fill="#041b22"/>
<rect x="318" y="549" width="10" height="26" fill="#147899"/>
<rect x="328" y="549" width="11" height="26" fill="#0e576f"/>
<rect x="339" y="549" width="10" height="26" fill="#1eb4e6"/>
<rect x="349" y="549" width="11" height="26" fill="#147899"/>
<rect x="360" y="549" width="5" height="26" fill="#2a2a00"/>
<rect x="365" y="549" width="11" height="26" fill="#000000"/>
<rect x="376" y="549" width="16" height="26" fill="#041b22"/>
<rect x="392" y="549" width="5" height="26" fill="#1eb4e6"/>
<rect x="397" y="549" width="11" height="26" fill="#093645"/>
<rect x="408" y="549" width="10" height="26" fill="#147899"/>
<rect x="418" y="549" width="11" height="26" fill="#093645"/>
<rect x="429" y="549" width="5" height="26" fill="#147899"/>
<rect x="434" y="549" width="11" height="26" fill="#1eb4e6"/>
<rect x="445" y="549" width="5" height="26" fill="#0e576f"/>
<rect x="450" y="549" width="5" height="26" fill="#041b22"/>
<rect x="455" y="549" width="6" height="26" fill="#1996c0"/>
<rect x="461" y="549" width="5" height="26" fill="#0e576f"/>
<rect x="466" y="549" width="5" height="26" fill="#1eb4e6"/>
<rect x="471" y="549" width="5" height="26" fill="#1996c0"/>
<rect x="476" y="549" width="11" height="26" fill="#0e576f"/>
<rect x="487" y="549" width="16" height="26" fill="#147899"/>
<rect x="503" y="549" width="5" height="26" fill="#1eb4e6"/>
<rect x="508" y="549" width="16" height="26" fill="#041b22"/>
<rect x="524" y="549" width="5" height="26" fill="#093645"/>
<rect x="529" y="549" width="6" height="26" fill="#000000"/>
<rect x="535" y="549" width="10" height="26" fill="#093645"/>
<rect x="545" y="549" width="6" height="26" fill="#000000"/>
<rect x="551" y="549" width="15" height="26" fill="#041b22"/>
<rect x="566" y="549" width="11" height="26" fill="#093645"/>
<rect x="577" y="549" width="5" height="26" fill="#041b22"/>
<rect x="582" y="549" width="11" height="26" fill="#093645"/>
<rect x="593" y="549" width="5" height="26" fill="#0e576f"/>
<rect x="598" y="549" width="11" height="26" fill="#093645"/>
<rect x="609" y="549" width="16" height="26" fill="#000000"/>
<rect x="625" y="549" width="5" height="26" fill="#093645"/>
<rect x="630" y="549" width="5" height="26" fill="#000000"/>
<rect x="635" y="549" width="6" height="26" fill="#093645"/>
<rect x="641" y="549" width="10" height="26" fill="#0e576f"/>
<rect x="651" y="549" width="5" height="26" fill="#000000"/>
<rect x="656" y="549" width="11" height="26" fill="#147899"/>
<rect x="667" y="549" width="21" height="26" fill="#000000"/>
<rect x="688" y="549" width="6" height="26" fill="#041b22"/>
<rect x="694" y="549" width="15" height="26" fill="#000000"/>
<rect x="709" y="549" width="11" height="26" fill="#0e576f"/>
<rect x="720" y="549" width="5" height="26" fill="#147899"/>
<rect x="725" y="549" width="6" height="26" fill="#0e576f"/>
<rect x="731" y="549" width="16" height="26" fill="#147899"/>
<rect x="747" y="549" width="5" height="26" fill="#041b22"/>
<rect x="752" y="549" width="5" height="26" fill="#0e576f"/>
<rect x="757" y="549" width="5" height="26" fill="#093645"/>
<rect x="762" y="549" width="6" height="26" fill="#147899"/>
<rect x="768" y="549" width="5" height="26" fill="#000000"/>
<rect x="21" y="575" width="11" height="26" fill="#147899"/>
<rect x="32" y="575" width="5" height="26" fill="#093645"/>
<rect x="37" y="575" width="5" height="26" fill="#1996c0"/>
<rect x="42" y="575" width="5" height="26" fill="#147899"/>
<rect x="47" y="575" width="11" height="26" fill="#093645"/>
<rect x="58" y="575" width="5" height="26" fill="#041b22"/>
<rect x="63" y="575" width="11" height="26" fill="#093645"/>
<rect x="74" y="575" width="5" height="26" fill="#041b22"/>
<rect x="79" y="575" width="6" height="26" fill="#093645"/>
<rect x="85" y="575" width="5" height="26" fill="#041b22"/>
<rect x="90" y="575" width="5" height="26" fill="#093645"/>
<rect x="95" y="575" width="5" height="26" fill="#041b22"/>
<rect x="100" y="575" width="6" height="26" fill="#1996c0"/>
<rect x="106" y="575" width="5" height="26" fill="#0e576f"/>
<rect x="111" y="575" width="5" height="26" fill="#041b22"/>
<rect x="116" y="575" width="6" height="26" fill="#0e576f"/>
<rect x="122" y="575" width="5" height="26" fill="#147899"/>
<rect x="127" y="575" width="5" height="26" fill="#0e576f"/>
<rect x="132" y="575" width="6" height="26" fill="#147899"/>
<rect x="138" y="575" width="5" height="26" fill="#1996c0"/>
<rect x="143" y="575" width="5" height="26" fill="#0e576f"/>
<rect x="148" y="575" width="5" height="26" fill="#1996c0"/>
<rect x="153" y="575" width="6" height="26" fill="#147899"/>
<rect x="159" y="575" width="10" height="26" fill="#1996c0"/>
<rect x="169" y="575" width="11" height="26" fill="#093645"/>
<rect x="180" y="575" width="5" height="26" fill="#041b22"/>
<rect x="185" y="575" width="5" height="26" fill="#093645"/>
<rect x="190" y="575" width="16" height="26" fill="#041b22"/>
<rect x="206" y="575" width="6" height="26" fill="#147899"/>
<rect x="212" y="575" width="5" height="26" fill="#0e576f"/>
<rect x="217" y="575" width="5" height="26" fill="#1996c0"/>
<rect x="222" y="575" width="6" height="26" fill="#147899"/>
<rect x="228" y="575" width="5" height="26" fill="#093645"/>
<rect x="233" y="575" width="5" height="26" fill="#0e576f"/>
<rect x="238" y="575" width="5" height="26" fill="#147899"/>
<rect x="243" y="575" width="6" height="26" fill="#1eb4e6"/>
<rect x="249" y="575" width="5" height="26" fill="#041b22"/>
<rect x="254" y="575" width="5" height="26" fill="#0e576f"/>
<rect x="259" y="575" width="6" height="26" fill="#1eb4e6"/>
<rect x="265" y="575" width="5" height="26" fill="#041b22"/>
<rect x="270" y="575" width="5" height="26" fill="#147899"/>
<rect x="275" y="575" width="5" height="26" fill="#0e576f"/>
<rect x="280" y="575" width="6" height="26" fill="#093645"/>
<rect x="286" y="575" width="5" height="26" fill="#041b22"/>
<rect x="291" y="575" width="5" height="26" fill="#147899"/>
<rect x="296" y="575" width="6" height="26" fill="#093645"/>
<rect x="302" y="575" width="10" height="26" fill="#1996c0"/>
<rect x="312" y="575" width="6" height="26" fill="#041b22"/>
<rect x="318" y="575" width="10" height="26" fill="#1eb4e6"/>
<rect x="328" y="575" width="11" height="26" fill="#0e576f"/>
<rect x="339" y="575" width="10" height="26" fill="#1eb4e6"/>
<rect x="349" y="575" width="11" height="26" fill="#147899"/>
<rect x="360" y="575" width="5" height="26" fill="#555500"/>
<rect x="365" y="575" width="6" height="26" fill="#000000"/>
<rect x="371" y="575" width="21" height="26" fill="#041b22"/>
<rect x="392" y="575" width="5" height="26" fill="#000000"/>
<rect x="397" y="575" width="5" height="26" fill="#1eb4e6"/>
<rect x="402" y="575" width="6" height="26" fill="#093645"/>
<rect x="408" y="575" width="10" height="26" fill="#147899"/>
<rect x="418" y="575" width="5" height="26" fill="#093645"/>
<rect x="423" y="575" width="6" height="26" fill="#0e576f"/>
<rect x="429" y="575" width="5" height="26" fill="#093645"/>
<rect x="434" y="575" width="11" height="26" fill="#1eb4e6"/>
<rect x="445" y="575" width="5" height="26" fill="#0e576f"/>
<rect x="450" y="575" width="5" height="26" fill="#041b22"/>
<rect x="455" y="575" width="6" height="26" fill="#1eb4e6"/>
<rect x="461" y="575" width="5" height="26" fill="#041b22"/>
<rect x="466" y="575" width="5" height="26" fill="#1eb4e6"/>
<rect x="471" y="575" width="5" height="26" fill="#1996c0"/>
<rect x="476" y="575" width="22" height="26" fill="#093645"/>
<rect x="498" y="575" width="5" height="26" fill="#0e576f"/>
<rect x="503" y="575" width="5" height="26" fill="#1eb4e6"/>
<rect x="508" y="575" width="16" height="26" fill="#000000"/>
<rect x="524" y="575" width="5" height="26" fill="#093645"/>
<rect x="529" y="575" width="6" height="26" fill="#000000"/>
<rect x="535" y="575" width="5" height="26" fill="#093645"/>
<rect x="540" y="575" width="5" height="26" fill="#0e576f"/>
<rect x="545" y="575" width="11" height="26" fill="#000000"/>
<rect x="556" y="575" width="10" height="26" fill="#041b22"/>
<rect x="566" y="575" width="11" height="26" fill="#093645"/>
<rect x="577" y="575" width="5" height="26" fill="#041b22"/>
<rect x="582" y="575" width="11" height="26" fill="#093645"/>
<rect x="593" y="575" width="5" height="26" fill="#0e576f"/>
<rect x="598" y="575" width="6" height="26" fill="#000000"/>
<rect x="604" y="575" width="5" height="26" fill="#093645"/>
<rect x="609" y="575" width="16" height="26" fill="#000000"/>
<rect x="625" y="575" width="5" height="26" fill="#093645"/>
<rect x="630" y="575" width="5" height="26" fill="#000000"/>
<rect x="635" y="575" width="21" height="26" fill="#093645"/>
<rect x="656" y="575" width="11" height="26" fill="#0e576f"/>
<rect x="667" y="575" width="16" height="26" fill="#000000"/>
<rect x="683" y="575" width="21" height="26" fill="#041b22"/>
<rect x="704" y="575" width="5" height="26" fill="#000000"/>
<rect x="709" y="575" width="16" height="26" fill="#0e576f"/>
<rect x="725" y="575" width="6" height="26" fill="#1996c0"/>
<rect x="731" y="575" width="5" height="26" fill="#0e576f"/>
<rect x="736" y="575" width="11" height="26" fill="#1996c0"/>
<rect x="747" y="575" width="5" height="26" fill="#000000"/>
<rect x="752" y="575" width="5" height="26" fill="#1996c0"/>
<rect x="757" y="575" width="5" height="26" fill="#093645"/>
<rect x="762" y="575" width="6" height="26" fill="#1996c0"/>
<rect x="768" y="575" width="5" height="26" fill="#000000"/>
<rect x="21" y="601" width="5" height="27" fill="#041b22"/>
<rect x="26" y="601" width="6" height="27" fill="#093645"/>
<rect x="32" y="601" width="5" height="27" fill="#041b22"/>
<rect x="37" y="601" width="5" height="27" fill="#2a2a00"/>
<rect x="42" y="601" width="32" height="27" fill="#1eb4e6"/>
<rect x="74" y="601" width="5" height="27" fill="#093645"/>
<rect x="79" y="601" width="11" height="27" fill="#1eb4e6"/>
<rect x="90" y="601" width="5" height="27" fill="#147899"/>
<rect x="95" y="601" width="5" height="27" fill="#0e576f"/>
<rect x="100" y="601" width="16" height="27" fill="#1eb4e6"/>
<rect x="116" y="601" width="6" height="27" fill="#0e576f"/>
<rect x="122" y="601" width="5" height="27" fill="#1996c0"/>
<rect x="127" y="601" width="5" height="27" fill="#093645"/>
<rect x="132" y="601" width="6" height="27" fill="#0e576f"/>
<rect x="138" y="601" width="5" height="27" fill="#093645"/>
<rect x="143" y="601" width="21" height="27" fill="#1eb4e6"/>
<rect x="164" y="601" width="5" height="27" fill="#093645"/>
<rect x="169" y="601" width="6" height="27" fill="#0e576f"/>
<rect x="175" y="601" width="5" height="27" fill="#147899"/>
<rect x="180" y="601" width="5" height="27" fill="#1996c0"/>
<rect x="185" y="601" width="5" height="27" fill="#093645"/>
<rect x="190" y="601" width="11" height="27" fill="#147899"/>
<rect x="201" y="601" width="5" height="27" fill="#093645"/>
<rect x="206" y="601" width="6" height="27" fill="#041b22"/>
<rect x="212" y="601" width="5" height="27" fill="#1eb4e6"/>
<rect x="217" y="601" width="11" height="27" fill="#0e576f"/>
<rect x="228" y="601" width="5" height="27" fill="#093645"/>
<rect x="233" y="601" width="47" height="27" fill="#1eb4e6"/>
<rect x="280" y="601" width="11" height="27" fill="#147899"/>
<rect x="291" y="601" width="5" height="27" fill="#1996c0"/>
<rect x="296" y="601" width="16" height="27" fill="#1eb4e6"/>
<rect x="312" y="601" width="6" height="27" fill="#1996c0"/>
<rect x="318" y="601" width="5" height="27" fill="#0e576f"/>
<rect x="323" y="601" width="5" height="27" fill="#1996c0"/>
<rect x="328" y="601" width="5" height="27" fill="#0e576f"/>
<rect x="333" y="601" width="6" height="27" fill="#147899"/>
<rect x="339" y="601" width="5" height="27" fill="#0e576f"/>
<rect x="344" y="601" width="5" height="27" fill="#1eb4e6"/>
<rect x="349" y="601" width="11" height="27" fill="#041b22"/>
<rect x="360" y="601" width="5" height="27" fill="#1eb4e6"/>
<rect x="365" y="601" width="6" height="27" fill="#0e576f"/>
<rect x="371" y="601" width="5" height="27" fill="#1eb4e6"/>
<rect x="376" y="601" width="5" height="27" fill="#041b22"/>
<rect x="381" y="601" width="11" height="27" fill="#000000"/>
<rect x="392" y="601" width="5" height="27" fill="#041b22"/>
<rect x="397" y="601" width="5" height="27" fill="#1eb4e6"/>
<rect x="402" y="601" width="6" height="27" fill="#0e576f"/>
<rect x="408" y="601" width="68" height="27" fill="#1eb4e6"/>
<rect x="476" y="601" width="6" height="27" fill="#147899"/>
<rect x="482" y="601" width="5" height="27" fill="#1eb4e6"/>
<rect x="487" y="601" width="11" height="27" fill="#0e576f"/>
<rect x="498" y="601" width="5" height="27" fill="#147899"/>
<rect x="503" y="601" width="5" height="27" fill="#1eb4e6"/>
<rect x="508" y="601" width="6" height="27" fill="#0e576f"/>
<rect x="514" y="601" width="26" height="27" fill="#1eb4e6"/>
<rect x="540" y="601" width="5" height="27" fill="#1996c0"/>
<rect x="545" y="601" width="6" height="27" fill="#0e576f"/>
<rect x="551" y="601" width="26" height="27" fill="#1eb4e6"/>
<rect x="577" y="601" width="5" height="27" fill="#147899"/>
<rect x="582" y="601" width="11" height="27" fill="#1eb4e6"/>
<rect x="593" y="601" width="11" height="27" fill="#0e576f"/>
<rect x="604" y="601" width="10" height="27" fill="#147899"/>
<rect x="614" y="601" width="11" height="27" fill="#1996c0"/>
<rect x="625" y="601" width="5" height="27" fill="#1eb4e6"/>
<rect x="630" y="601" width="5" height="27" fill="#1996c0"/>
<rect x="635" y="601" width="6" height="27" fill="#0e576f"/>
<rect x="641" y="601" width="15" height="27" fill="#1eb4e6"/>
<rect x="656" y="601" width="6" height="27" fill="#093645"/>
<rect x="662" y="601" width="5" height="27" fill="#000000"/>
<rect x="667" y="601" width="11" height="27" fill="#0e576f"/>
<rect x="678" y="601" width="5" height="27" fill="#1eb4e6"/>
<rect x="683" y="601" width="5" height="27" fill="#093645"/>
<rect x="688" y="601" width="16" height="27" fill="#0e576f"/>
<rect x="704" y="601" width="5" height="27" fill="#000000"/>
<rect x="709" y="601" width="6" height="27" fill="#1996c0"/>
<rect x="715" y="601" width="5" height="27" fill="#0e576f"/>
<rect x="720" y="601" width="5" height="27" fill="#2a2a00"/>
<rect x="725" y="601" width="6" height="27" fill="#ffff00"/>
<rect x="731" y="601" width="5" height="27" fill="#555500"/>
<rect x="736" y="601" width="5" height="27" fill="#2a2a00"/>
<rect x="741" y="601" width="6" height="27" fill="#ffff00"/>
<rect x="747" y="601" width="10" height="27" fill="#d4d400"/>
<rect x="757" y="601" width="5" height="27" fill="#aaaa00"/>
<rect x="762" y="601" width="6" height="27" fill="#555500"/>
<rect x="768" y="601" width="5" height="27" fill="#000000"/>
<rect x="21" y="628" width="16" height="26" fill="#093645"/>
<rect x="37" y="628" width="5" height="26" fill="#000000"/>
<rect x="42" y="628" width="11" height="26" fill="#1eb4e6"/>
<rect x="53" y="628" width="5" height="26" fill="#147899"/>
<rect x="58" y="628" width="11" height="26" fill="#1eb4e6"/>
<rect x="69" y="628" width="5" height="26" fill="#0e576f"/>
<rect x="74" y="628" width="5" height="26" fill="#093645"/>
<rect x="79" y="628" width="16" height="26" fill="#1eb4e6"/>
<rect x="95" y="628" width="5" height="26" fill="#0e576f"/>
<rect x="100" y="628" width="16" height="26" fill="#1eb4e6"/>
<rect x="116" y="628" width="6" height="26" fill="#0e576f"/>
<rect x="122" y="628" width="5" height="26" fill="#147899"/>
<rect x="127" y="628" width="11" height="26" fill="#0e576f"/>
<rect x="138" y="628" width="5" height="26" fill="#093645"/>
<rect x="143" y="628" width="10" height="26" fill="#1eb4e6"/>
<rect x="153" y="628" width="6" height="26" fill="#147899"/>
<rect x="159" y="628" width="5" height="26" fill="#1eb4e6"/>
<rect x="164" y="628" width="5" height="26" fill="#093645"/>
<rect x="169" y="628" width="6" height="26" fill="#0e576f"/>
<rect x="175" y="628" width="5" height="26" fill="#147899"/>
<rect x="180" y="628" width="5" height="26" fill="#1eb4e6"/>
<rect x="185" y="628" width="5" height="26" fill="#093645"/>
<rect x="190" y="628" width="16" height="26" fill="#0e576f"/>
<rect x="206" y="628" width="6" height="26" fill="#093645"/>
<rect x="212" y="628" width="5" height="26" fill="#1eb4e6"/>
<rect x="217" y="628" width="11" height="26" fill="#0e576f"/>
<rect x="228" y="628" width="5" height="26" fill="#093645"/>
<rect x="233" y="628" width="47" height="26" fill="#1eb4e6"/>
<rect x="280" y="628" width="22" height="26" fill="#1996c0"/>
<rect x="302" y="628" width="16" height="26" fill="#1eb4e6"/>
<rect x="318" y="628" width="10" height="26" fill="#1996c0"/>
<rect x="328" y="628" width="5" height="26" fill="#147899"/>
<rect x="333" y="628" width="6" height="26" fill="#1996c0"/>
<rect x="339" y="628" width="5" height="26" fill="#0e576f"/>
<rect x="344" y="628" width="5" height="26" fill="#1996c0"/>
<rect x="349" y="628" width="11" height="26" fill="#093645"/>
<rect x="360" y="628" width="5" height="26" fill="#1eb4e6"/>
<rect x="365" y="628" width="6" height="26" fill="#093645"/>
<rect x="371" y="628" width="5" height="26" fill="#1996c0"/>
<rect x="376" y="628" width="5" height="26" fill="#2a2a00"/>
<rect x="381" y="628" width="16" height="26" fill="#041b22"/>
<rect x="397" y="628" width="5" height="26" fill="#1eb4e6"/>
<rect x="402" y="628" width="6" height="26" fill="#0e576f"/>
<rect x="408" y="628" width="63" height="26" fill="#1eb4e6"/>
<rect x="471" y="628" width="5" height="26" fill="#1996c0"/>
<rect x="476" y="628" width="6" height="26" fill="#147899"/>
<rect x="482" y="628" width="5" height="26" fill="#1eb4e6"/>
<rect x="487" y="628" width="5" height="26" fill="#147899"/>
<rect x="492" y="628" width="11" height="26" fill="#1996c0"/>
<rect x="503" y="628" width="5" height="26" fill="#1eb4e6"/>
<rect x="508" y="628" width="6" height="26" fill="#0e576f"/>
<rect x="514" y="628" width="10" height="26" fill="#1eb4e6"/>
<rect x="524" y="628" width="5" height="26" fill="#1996c0"/>
<rect x="529" y="628" width="6" height="26" fill="#1eb4e6"/>
<rect x="535" y="628" width="5" height="26" fill="#1996c0"/>
<rect x="540" y="628" width="5" height="26" fill="#1eb4e6"/>
<rect x="545" y="628" width="6" height="26" fill="#147899"/>
<rect x="551" y="628" width="5" height="26" fill="#1996c0"/>
<rect x="556" y="628" width="21" height="26" fill="#1eb4e6"/>
<rect x="577" y="628" width="5" height="26" fill="#1996c0"/>
<rect x="582" y="628" width="6" height="26" fill="#1eb4e6"/>
<rect x="588" y="628" width="5" height="26" fill="#1996c0"/>
<rect x="593" y="628" width="5" height="26" fill="#0e576f"/>
<rect x="598" y="628" width="6" height="26" fill="#093645"/>
<rect x="604" y="628" width="15" height="26" fill="#0e576f"/>
<rect x="619" y="628" width="11" height="26" fill="#1996c0"/>
<rect x="630" y="628" width="5" height="26" fill="#1eb4e6"/>
<rect x="635" y="628" width="6" height="26" fill="#093645"/>
<rect x="641" y="628" width="15" height="26" fill="#1eb4e6"/>
<rect x="656" y="628" width="6" height="26" fill="#093645"/>
<rect x="662" y="628" width="5" height="26" fill="#000000"/>
<rect x="667" y="628" width="5" height="26" fill="#0e576f"/>
<rect x="672" y="628" width="6" height="26" fill="#093645"/>
<rect x="678" y="628" width="5" height="26" fill="#1eb4e6"/>
<rect x="683" y="628" width="5" height="26" fill="#000000"/>
<rect x="688" y="628" width="6" height="26" fill="#093645"/>
<rect x="694" y="628" width="5" height="26" fill="#0e576f"/>
<rect x="699" y="628" width="5" height="26" fill="#093645"/>
<rect x="704" y="628" width="5" height="26" fill="#000000"/>
<rect x="709" y="628" width="11" height="26" fill="#0e576f"/>
<rect x="720" y="628" width="5" height="26" fill="#000000"/>
<rect x="725" y="628" width="6" height="26" fill="#aaaa00"/>
<rect x="731" y="628" width="5" height="26" fill="#555500"/>
<rect x="736" y="628" width="5" height="26" fill="#2a2a00"/>
<rect x="741" y="628" width="6" height="26" fill="#ffff00"/>
<rect x="747" y="628" width="5" height="26" fill="#d4d400"/>
<rect x="752" y="628" width="21" height="26" fill="#555500"/>
<rect x="21" y="654" width="5" height="26" fill="#041b22"/>
<rect x="26" y="654" width="6" height="26" fill="#093645"/>
<rect x="32" y="654" width="5" height="26" fill="#000000"/>
<rect x="37" y="654" width="5" height="26" fill="#555500"/>
<rect x="42" y="654" width="32" height="26" fill="#1eb4e6"/>
<rect x="74" y="654" width="5" height="26" fill="#147899"/>
<rect x="79" y="654" width="21" height="26" fill="#1eb4e6"/>
<rect x="100" y="654" width="6" height="26" fill="#0e576f"/>
<rect x="106" y="654" width="5" height="26" fill="#147899"/>
<rect x="111" y="654" width="5" height="26" fill="#1eb4e6"/>
<rect x="116" y="654" width="6" height="26" fill="#093645"/>
<rect x="122" y="654" width="42" height="26" fill="#1eb4e6"/>
<rect x="164" y="654" width="5" height="26" fill="#147899"/>
<rect x="169" y="654" width="159" height="26" fill="#1eb4e6"/>
<rect x="328" y="654" width="5" height="26" fill="#0e576f"/>
<rect x="333" y="654" width="16" height="26" fill="#1eb4e6"/>
<rect x="349" y="654" width="6" height="26" fill="#0e576f"/>
<rect x="355" y="654" width="5" height="26" fill="#147899"/>
<rect x="360" y="654" width="21" height="26" fill="#1eb4e6"/>
<rect x="381" y="654" width="5" height="26" fill="#093645"/>
<rect x="386" y="654" width="16" height="26" fill="#1eb4e6"/>
<rect x="402" y="654" width="6" height="26" fill="#1996c0"/>
<rect x="408" y="654" width="264" height="26" fill="#1eb4e6"/>
<rect x="672" y="654" width="6" height="26" fill="#0e576f"/>
<rect x="678" y="654" width="42" height="26" fill="#1eb4e6"/>
<rect x="720" y="654" width="11" height="26" fill="#555500"/>
<rect x="731" y="654" width="5" height="26" fill="#2a2a00"/>
<rect x="736" y="654" width="5" height="26" fill="#aaaa00"/>
<rect x="741" y="654" width="6" height="26" fill="#555500"/>
<rect x="747" y="654" width="10" height="26" fill="#ffff00"/>
<rect x="757" y="654" width="5" height="26" fill="#d4d400"/>
<rect x="762" y="654" width="6" height="26" fill="#2a2a00"/>
<rect x="768" y="654" width="5" height="26" fill="#aaaa00"/>
<rect x="21" y="680" width="5" height="26" fill="#000000"/>
<rect x="26" y="680" width="6" height="26" fill="#093645"/>
<rect x="32" y="680" width="5" height="26" fill="#000000"/>
<rect x="37" y="680" width="5" height="26" fill="#555500"/>
<rect x="42" y="680" width="5" height="26" fill="#147899"/>
<rect x="47" y="680" width="6" height="26" fill="#1eb4e6"/>
<rect x="53" y="680" width="5" height="26" fill="#1996c0"/>
<rect x="58" y="680" width="16" height="26" fill="#1eb4e6"/>
<rect x="74" y="680" width="5" height="26" fill="#093645"/>
<rect x="79" y="680" width="11" height="26" fill="#1eb4e6"/>
<rect x="90" y="680" width="5" height="26" fill="#0e576f"/>
<rect x="95" y="680" width="5" height="26" fill="#093645"/>
<rect x="100" y="680" width="6" height="26" fill="#000000"/>
<rect x="106" y="680" width="5" height="26" fill="#0e576f"/>
<rect x="111" y="680" width="11" height="26" fill="#093645"/>
<rect x="122" y="680" width="5" height="26" fill="#1eb4e6"/>
<rect x="127" y="680" width="5" height="26" fill="#147899"/>
<rect x="132" y="680" width="6" height="26" fill="#0e576f"/>
<rect x="138" y="680" width="15" height="26" fill="#1eb4e6"/>
<rect x="153" y="680" width="6" height="26" fill="#0e576f"/>
<rect x="159" y="680" width="5" height="26" fill="#1eb4e6"/>
<rect x="164" y="680" width="5" height="26" fill="#147899"/>
<rect x="169" y="680" width="6" height="26" fill="#1eb4e6"/>
<rect x="175" y="680" width="5" height="26" fill="#1996c0"/>
<rect x="180" y="680" width="16" height="26" fill="#1eb4e6"/>
<rect x="196" y="680" width="5" height="26" fill="#1996c0"/>
<rect x="201" y="680" width="27" height="26" fill="#1eb4e6"/>
<rect x="228" y="680" width="5" height="26" fill="#147899"/>
<rect x="233" y="680" width="5" height="26" fill="#1eb4e6"/>
<rect x="238" y="680" width="5" height="26" fill="#147899"/>
<rect x="243" y="680" width="85" height="26" fill="#1eb4e6"/>
<rect x="328" y="680" width="5" height="26" fill="#0e576f"/>
<rect x="333" y="680" width="11" height="26" fill="#1996c0"/>
<rect x="344" y="680" width="5" height="26" fill="#1eb4e6"/>
<rect x="349" y="680" width="6" height="26" fill="#041b22"/>
<rect x="355" y="680" width="5" height="26" fill="#0e576f"/>
<rect x="360" y="680" width="16" height="26" fill="#1eb4e6"/>
<rect x="376" y="680" width="5" height="26" fill="#0e576f"/>
<rect x="381" y="680" width="5" height="26" fill="#041b22"/>
<rect x="386" y="680" width="6" height="26" fill="#1996c0"/>
<rect x="392" y="680" width="10" height="26" fill="#1eb4e6"/>
<rect x="402" y="680" width="6" height="26" fill="#147899"/>
<rect x="408" y="680" width="185" height="26" fill="#1eb4e6"/>
<rect x="593" y="680" width="5" height="26" fill="#147899"/>
<rect x="598" y="680" width="64" height="26" fill="#1eb4e6"/>
<rect x="662" y="680" width="5" height="26" fill="#147899"/>
<rect x="667" y="680" width="11" height="26" fill="#1996c0"/>
<rect x="678" y="680" width="42" height="26" fill="#1eb4e6"/>
<rect x="720" y="680" width="5" height="26" fill="#aaaa00"/>
<rect x="725" y="680" width="6" height="26" fill="#d4d400"/>
<rect x="731" y="680" width="5" height="26" fill="#2a2a00"/>
<rect x="736" y="680" width="5" height="26" fill="#d4d400"/>
<rect x="741" y="680" width="6" height="26" fill="#aaaa00"/>
<rect x="747" y="680" width="10" height="26" fill="#ffff00"/>
<rect x="757" y="680" width="5" height="26" fill="#aaaa00"/>
<rect x="762" y="680" width="6" height="26" fill="#555500"/>
<rect x="768" y="680" width="5" height="26" fill="#aaaa00"/>
</g>
<path d="M175.5 16.2H745.4M176.2 16.2V117.7M744.7 16.2V149.4M33.3 117.7H320.4M34.0 117.7V196.2M319.7 117.7V168.5M28.9 196.2H39.0M29.6 196.2V229.7M38.3 196.2V233.0M21.4 229.7H35.3M22.1 229.7V233.0M34.6 229.7V233.0M23.8 231.2H29.2M24.5 231.2V233.0M28.5 231.2V233.0M191.6 168.5H446.3M192.3 168.5V201.7M445.6 168.5V177.2M136.1 201.7H249.2M136.8 201.7V213.7M248.5 201.7V204.4M88.4 213.7H185.5M89.1 213.7V218.9M184.8 213.7V220.7M54.7 218.9H148.2M55.4 218.9V224.2M122.8 218.9V219.2M46.4 224.2H65.1M47.1 224.2V229.8M64.4 224.2V228.3M43.4 229.8H50.5M44.1 229.8V233.0M49.8 229.8V233.0M53.2 228.3H71.1M53.9 228.3V233.0M70.4 228.3V233.0M59.2 230.9H67.0M59.9 230.9V233.0M66.2 230.9V233.0M97.4 219.2V221.9M80.9 221.9H113.1M81.6 221.9V225.3M112.4 221.9V223.4M75.3 225.3H89.8M76.0 225.3V233.0M89.1 225.3V228.3M80.9 228.3H96.2M81.6 228.3V233.0M95.5 228.3V233.0M83.3 230.7H88.7M84.0 230.7V233.0M88.0 230.7V233.0M101.6 223.4H119.1M102.3 223.4V233.0M118.4 223.4V233.0M110.1 223.4V227.9M106.8 227.9H113.1M107.5 227.9V233.0M112.4 227.9V233.0M147.5 219.2V222.7M133.8 222.7H162.2M134.5 222.7V226.7M161.5 222.7V225.2M127.8 226.7H140.2M128.5 226.7V233.0M139.5 226.7V233.0M122.8 229.7H128.2M123.5 229.7V233.0M127.5 229.7V233.0M155.3 225.2H166.7M156.0 225.2V233.0M166.0 225.2V233.0M150.3 228.7H161.2M151.0 228.7V233.0M160.5 228.7V233.0M143.8 229.7H150.2M144.5 229.7V233.0M149.5 229.7V233.0M176.8 220.7H191.7M177.5 220.7V226.7M191.0 220.7V225.7M172.3 226.7H181.7M173.0 226.7V233.0M181.0 226.7V233.0M169.8 230.2H175.7M170.5 230.2V233.0M175.0 230.2V233.0M187.3 225.7H195.2M188.0 225.7V233.0M194.5 225.7V229.7M191.3 229.7H198.2M192.0 229.7V233.0M197.5 229.7V233.0M204.8 204.4H293.2M205.5 204.4V228.7M292.5 204.4V212.2M202.8 228.7H209.2M203.5 228.7V233.0M208.5 228.7V233.0M237.8 212.2H345.2M238.5 212.2V213.9M344.5 212.2V219.2M217.8 213.9H259.7M218.5 213.9V216.7M259.0 213.9V223.7M213.3 216.7H223.2M214.0 216.7V233.0M222.5 216.7V221.2M219.3 221.2H226.2M220.0 221.2V233.0M225.5 221.2V229.7M223.3 229.7H230.2M224.0 229.7V233.0M229.5 229.7V233.0M237.8 223.7H280.2M238.5 223.7V228.7M279.5 223.7V225.2M259.8 225.2H309.2M308.5 225.2V233.0M260.5 225.2V228.7M234.8 228.7H243.2M235.5 228.7V233.0M242.5 228.7V233.0M249.3 228.7H260.2M250.0 228.7V233.0M259.5 228.7V233.0M260.3 228.7H267.2M261.0 228.7V233.0M266.5 228.7V233.0M270.8 228.7H280.2M271.5 228.7V233.0M279.5 228.7V233.0M281.8 228.7H288.7M282.5 228.7V233.0M288.0 228.7V233.0M293.8 228.7H300.7M294.5 228.7V233.0M300.0 228.7V233.0M303.3 228.7H310.7M304.0 228.7V233.0M310.0 228.7V233.0M252.3 230.7H257.7M253.0 230.7V233.0M257.0 230.7V233.0M273.3 230.7H278.7M274.0 230.7V233.0M278.0 230.7V233.0M295.3 230.7H299.7M296.0 230.7V233.0M299.0 230.7V233.0M250.0 228.7V233.0M270.0 225.2V228.7M285.0 225.2V228.7M297.0 225.2V228.7M335.3 219.2H355.2M336.0 219.2V223.7M354.5 219.2V228.2M325.8 223.7H343.7M326.5 223.7V233.0M343.0 223.7V226.7M338.8 226.7H346.2M339.5 226.7V233.0M345.5 226.7V233.0M318.8 226.7H327.2M319.5 226.7V233.0M326.5 226.7V233.0M350.3 228.2H358.2M351.0 228.2V233.0M357.5 228.2V233.0M312.8 230.2H318.7M313.5 230.2V233.0M318.0 230.2V233.0M373.8 177.2H519.3M374.5 177.2V188.7M518.6 177.2V193.2M365.3 188.7H382.9M366.0 188.7V219.7M382.2 188.7V204.7M361.1 219.7H371.2M361.8 219.7V233.0M370.5 219.7V223.7M366.8 223.7H374.2M367.5 223.7V233.0M373.5 223.7V233.0M377.1 204.7H388.5M377.8 204.7V233.0M387.8 204.7V212.2M383.3 212.2H391.2M384.0 212.2V233.0M390.5 212.2V217.7M389.3 217.7H394.2M390.0 217.7V233.0M393.5 217.7V233.0M398.3 193.2H638.0M399.0 193.2V233.0M637.3 193.2V203.2M584.6 203.2H690.0M585.3 203.2V205.7M689.3 203.2V213.5M508.9 205.7H662.7M509.6 205.7V216.5M662.0 205.7V225.5M658.6 225.5H665.2M659.3 225.5V233.0M664.5 225.5V233.0M440.0 216.5H579.4M440.7 216.5V217.2M578.7 216.5V222.9M405.8 217.2H475.4M406.5 217.2V226.7M474.7 217.2V220.7M402.8 226.7H410.2M403.5 226.7V233.0M409.5 226.7V233.0M474.0 217.5H554.0M553.3 217.5V233.0M437.8 220.7H513.4M438.5 220.7V223.7M512.7 220.7V223.9M418.3 223.7H458.2M419.0 223.7V225.2M457.5 223.7V226.2M414.8 225.2H422.7M415.5 225.2V233.0M422.0 225.2V233.0M419.3 228.7H425.7M420.0 228.7V233.0M425.0 228.7V233.0M443.3 226.2H463.7M444.0 226.2V228.2M463.0 226.2V233.0M430.8 228.2H444.7M431.5 228.2V233.0M444.0 228.2V233.0M435.3 229.7H441.2M436.0 229.7V233.0M440.5 229.7V233.0M448.3 229.7H454.7M449.0 229.7V233.0M454.0 229.7V233.0M451.5 226.2V229.7M490.0 223.9H535.4M490.7 223.9V226.9M534.7 223.9V228.2M481.3 226.9H499.4M482.0 226.9V233.0M498.7 226.9V233.0M466.6 229.5H478.2M467.3 229.5V233.0M477.5 229.5V233.0M472.0 226.2V229.5M462.3 226.2H472.7M486.3 229.7H493.7M487.0 229.7V233.0M493.0 229.7V233.0M511.3 228.2H548.0M512.0 228.2V233.0M547.3 228.2V233.0M519.3 229.7H527.7M520.0 229.7V233.0M527.0 229.7V233.0M532.3 229.7H541.7M533.0 229.7V233.0M541.0 229.7V233.0M564.6 222.9H592.7M565.3 222.9V225.5M592.0 222.9V233.0M558.3 225.5H574.0M559.0 225.5V233.0M573.3 225.5V233.0M562.3 229.7H568.7M563.0 229.7V233.0M568.0 229.7V233.0M580.0 222.9V233.0M586.7 222.9V233.0M595.3 217.9H608.7M596.0 217.9V222.9M608.0 217.9V220.9M599.3 220.9H620.7M620.0 220.9V233.0M608.0 225.5H641.4M608.7 225.5V233.0M640.7 225.5V233.0M614.0 220.9V225.5M603.3 229.7H609.7M604.0 229.7V233.0M609.0 229.7V233.0M611.3 229.7H618.7M612.0 229.7V233.0M618.0 229.7V233.0M623.3 229.7H630.7M624.0 229.7V233.0M630.0 229.7V233.0M632.3 229.7H639.7M633.0 229.7V233.0M639.0 229.7V233.0M644.3 229.7H651.7M645.0 229.7V233.0M651.0 229.7V233.0M651.3 229.7H657.7M652.0 229.7V233.0M657.0 229.7V233.0M627.0 225.5V229.7M648.0 226.2V229.7M640.0 226.2H655.2M654.5 226.2V229.7M669.3 225.5H680.0M670.0 225.5V233.0M679.3 225.5V233.0M665.3 229.7H672.7M666.0 229.7V233.0M672.0 229.7V233.0M676.0 213.5H702.7M676.7 213.5V225.5M702.0 213.5V220.9M690.6 220.9H715.4M691.3 220.9V223.9M714.7 220.9V228.2M685.3 223.9H697.4M686.0 223.9V233.0M696.7 223.9V226.2M691.3 226.2H703.4M692.0 226.2V233.0M702.7 226.2V233.0M696.3 229.7H701.7M697.0 229.7V233.0M701.0 229.7V233.0M711.3 228.2H716.7M712.0 228.2V233.0M716.0 228.2V233.0M724.8 149.4H762.5M725.5 149.4V175.7M761.8 149.4V162.9M722.0 175.7H727.7M722.7 175.7V233.0M727.0 175.7V233.0M754.0 162.9H771.7M771.0 162.9V233.0M754.7 162.9V181.7M744.0 181.7H765.6M764.9 181.7V233.0M744.7 181.7V191.7M736.6 191.7H754.0M737.3 191.7V213.8M753.3 191.7V203.5M731.9 213.8H742.9M732.6 213.8V233.0M742.2 213.8V219.5M738.3 219.5H744.0M739.0 219.5V233.0M743.3 219.5V233.0M748.3 203.5H758.7M749.0 203.5V233.0M758.0 203.5V215.5M754.0 215.5H759.7M754.7 215.5V233.0M759.0 215.5V233.0" stroke="#000" stroke-width="1.4" fill="none"/>
<path d="M773 246.5H778M773 272.5H778M777.5 246V273M773 299.5H789M773 324.5H789M788.5 299V325M777 259.5H809M788 311.5H809M808.5 259V312M773 377.5H780M773 405.5H780M779.5 377V406M773 431.5H796M773 456.5H796M795.5 431V457M779 391.5H807M795 443.5H807M806.5 391V444M806 418.5H820M773 482.5H820M819.5 418V483M773 510.5H799M773 535.5H799M798.5 510V536M819 450.5H825M798 522.5H825M824.5 450V523M773 350.5H847M824 485.5H847M846.5 350V486M808 286.5H947M846 419.5H947M946.5 286V420M773 563.5H794M773 588.5H794M793.5 563V589M773 615.5H775M773 640.5H775M774.5 615V641M773 667.5H776M773 693.5H776M775.5 667V694M774 627.5H790M775 680.5H790M789.5 627V681M793 576.5H825M789 654.5H825M824.5 576V655M946 353.5H991M824 614.5H991M990.5 353V615" stroke="#111" stroke-width="1.15" fill="none"/>
<g font-size="17.6" fill="#000">
<text x="993.2" y="255.3">ZHYH</text>
<text x="993.2" y="281.6">ZHYH</text>
<text x="993.2" y="307.9">PHL</text>
<text x="993.2" y="334.2">PHL</text>
<text x="993.2" y="360.5">ZHLF</text>
<text x="993.2" y="386.8">CXY</text>
<text x="993.2" y="413.1">CXY</text>
<text x="993.2" y="439.4">ZHLF</text>
<text x="993.2" y="465.7">LLJ</text>
<text x="993.2" y="492.0">LLJ</text>
<text x="993.2" y="518.3">CHJW</text>
<text x="993.2" y="544.6">CHJW</text>
<text x="993.2" y="570.9">CHAH</text>
<text x="993.2" y="597.2">CHAH</text>
<text x="993.2" y="623.5">LXY</text>
<text x="993.2" y="649.8">LXY</text>
<text x="993.2" y="676.1">FYL</text>
<text x="993.2" y="702.4">FYL</text>
</g>
<g shape-rendering="crispEdges">
<rect x="1058" y="265" width="36" height="12" fill="#f6fbe8"/>
<rect x="1088" y="277" width="81" height="522" fill="#ebe8da"/>
<rect x="1059" y="278" width="29" height="71" fill="#1eb4e6"/>
<rect x="1059" y="349" width="29" height="72" fill="#147899"/>
<rect x="1059" y="421" width="29" height="71" fill="#0a3c4d"/>
<rect x="1059" y="492" width="29" height="72" fill="#000000"/>
<rect x="1059" y="564" width="29" height="71" fill="#555500"/>
<rect x="1059" y="635" width="29" height="72" fill="#aaaa00"/>
<rect x="1059" y="707" width="29" height="71" fill="#ffff00"/>
<rect x="1059" y="778" width="29" height="12" fill="#fbfbe0"/>
</g>
<g fill="#000" font-size="24.5">
<text transform="translate(0 366.3) scale(1 3.02)" x="1087.3 1098.5 1113.9 1121.5 1138.0" y="0">-3.00</text>
<text transform="translate(0 438.2) scale(1 3.02)" x="1087.3 1098.8 1113.9 1121.5 1138.0" y="0">-2.00</text>
<text transform="translate(0 510.1) scale(1 3.02)" x="1087.3 1096.9 1113.9 1121.5 1138.0" y="0">-1.00</text>
<text transform="translate(0 582.0) scale(1 3.02)" x="1089.5 1104.9 1112.5 1129.0" y="0">0.00</text>
<text transform="translate(0 653.9) scale(1 3.02)" x="1087.9 1104.9 1112.5 1129.0" y="0">1.00</text>
<text transform="translate(0 725.8) scale(1 3.02)" x="1089.8 1104.9 1112.5 1129.0" y="0">2.00</text>
<text transform="translate(0 797.7) scale(1 3.02)" x="1089.5 1104.9 1112.5 1129.0" y="0">3.00</text>
</g>
<g clip-path="url(#lc)" font-size="18.5" fill="#000">
<text transform="translate(20.3 710.5) rotate(90)">hsa-miR-431-3p</text>
<text transform="translate(25.6 710.5) rotate(90)">hsa-miR-254</text>
<text transform="translate(30.9 710.5) rotate(90)">hsa-miR-504</text>
<text transform="translate(36.2 710.5) rotate(90)">hsa-miR-766</text>
<text transform="translate(41.5 710.5) rotate(90)">hsa-miR-149*MIR157</text>
<text transform="translate(46.8 710.5) rotate(90)">hsa-miR-174</text>
<text transform="translate(52.1 710.5) rotate(90)">hsa-miR-940</text>
<text transform="translate(57.4 710.5) rotate(90)">hsa-miR-648</text>
<text transform="translate(62.7 710.5) rotate(90)">hsa-miR-196</text>
<text transform="translate(68.0 710.5) rotate(90)">hsa-miR-474*MIR224</text>
<text transform="translate(73.3 710.5) rotate(90)">hsa-miR-696</text>
<text transform="translate(78.6 710.5) rotate(90)">hsa-miR-159</text>
<text transform="translate(83.9 710.5) rotate(90)">hsa-miR-619</text>
<text transform="translate(89.2 710.5) rotate(90)">hsa-miR-319</text>
<text transform="translate(94.5 710.5) rotate(90)">hsa-miR-138*MIR154</text>
<text transform="translate(99.8 710.5) rotate(90)">hsa-miR-188</text>
<text transform="translate(105.1 710.5) rotate(90)">hsa-miR-544-5p</text>
<text transform="translate(110.4 710.5) rotate(90)">hsa-miR-528</text>
<text transform="translate(115.7 710.5) rotate(90)">hsa-miR-171</text>
<text transform="translate(121.0 710.5) rotate(90)">hsa-miR-346</text>
<text transform="translate(126.3 710.5) rotate(90)">hsa-miR-192</text>
<text transform="translate(131.6 710.5) rotate(90)">hsa-miR-664</text>
<text transform="translate(136.9 710.5) rotate(90)">hsa-miR-534*MIR144</text>
<text transform="translate(142.2 710.5) rotate(90)">hsa-miR-160</text>
<text transform="translate(147.4 710.5) rotate(90)">hsa-miR-946</text>
<text transform="translate(152.7 710.5) rotate(90)">hsa-miR-679</text>
<text transform="translate(158.0 710.5) rotate(90)">hsa-miR-226</text>
<text transform="translate(163.3 710.5) rotate(90)">hsa-miR-328</text>
<text transform="translate(168.6 710.5) rotate(90)">hsa-miR-745</text>
<text transform="translate(173.9 710.5) rotate(90)">hsa-miR-742</text>
<text transform="translate(179.2 710.5) rotate(90)">hsa-miR-696</text>
<text transform="translate(184.5 710.5) rotate(90)">hsa-miR-163-5p</text>
<text transform="translate(189.8 710.5) rotate(90)">hsa-miR-690</text>
<text transform="translate(195.1 710.5) rotate(90)">hsa-miR-699-5p</text>
<text transform="translate(200.4 710.5) rotate(90)">hsa-miR-506</text>
<text transform="translate(205.7 710.5) rotate(90)">hsa-miR-150</text>
<text transform="translate(211.0 710.5) rotate(90)">hsa-miR-326-5p</text>
<text transform="translate(216.3 710.5) rotate(90)">hsa-miR-147</text>
<text transform="translate(221.6 710.5) rotate(90)">hsa-miR-670-5p</text>
<text transform="translate(226.9 710.5) rotate(90)">hsa-miR-979</text>
<text transform="translate(232.2 710.5) rotate(90)">hsa-miR-236a-5p</text>
<text transform="translate(237.5 710.5) rotate(90)">hsa-miR-396</text>
<text transform="translate(242.8 710.5) rotate(90)">hsa-miR-529</text>
<text transform="translate(248.1 710.5) rotate(90)">hsa-miR-247</text>
<text transform="translate(253.4 710.5) rotate(90)">hsa-miR-653a</text>
<text transform="translate(258.7 710.5) rotate(90)">hsa-miR-220</text>
<text transform="translate(264.0 710.5) rotate(90)">hsa-miR-684</text>
<text transform="translate(269.2 710.5) rotate(90)">hsa-miR-415</text>
<text transform="translate(274.5 710.5) rotate(90)">hsa-miR-673</text>
<text transform="translate(279.8 710.5) rotate(90)">hsa-miR-935</text>
<text transform="translate(285.1 710.5) rotate(90)">hsa-miR-798-3p</text>
<text transform="translate(290.4 710.5) rotate(90)">hsa-miR-285</text>
<text transform="translate(295.7 710.5) rotate(90)">hsa-miR-205</text>
<text transform="translate(301.0 710.5) rotate(90)">hsa-miR-695</text>
<text transform="translate(306.3 710.5) rotate(90)">hsa-miR-684</text>
<text transform="translate(311.6 710.5) rotate(90)">hsa-miR-754</text>
<text transform="translate(316.9 710.5) rotate(90)">hsa-miR-292</text>
<text transform="translate(322.2 710.5) rotate(90)">hsa-miR-481</text>
<text transform="translate(327.5 710.5) rotate(90)">hsa-miR-199-5p</text>
<text transform="translate(332.8 710.5) rotate(90)">hsa-miR-660</text>
<text transform="translate(338.1 710.5) rotate(90)">hsa-miR-829</text>
<text transform="translate(343.4 710.5) rotate(90)">hsa-miR-164</text>
<text transform="translate(348.7 710.5) rotate(90)">hsa-miR-677</text>
<text transform="translate(354.0 710.5) rotate(90)">hsa-miR-161</text>
<text transform="translate(359.3 710.5) rotate(90)">hsa-miR-733-5p</text>
<text transform="translate(364.6 710.5) rotate(90)">hsa-miR-310*</text>
<text transform="translate(369.9 710.5) rotate(90)">hsa-miR-608</text>
<text transform="translate(375.2 710.5) rotate(90)">hsa-miR-796</text>
<text transform="translate(380.5 710.5) rotate(90)">hsa-miR-644</text>
<text transform="translate(385.8 710.5) rotate(90)">hsa-miR-537a</text>
<text transform="translate(391.1 710.5) rotate(90)">hsa-miR-895</text>
<text transform="translate(396.3 710.5) rotate(90)">hsa-miR-421</text>
<text transform="translate(401.6 710.5) rotate(90)">hsa-miR-576</text>
<text transform="translate(406.9 710.5) rotate(90)">hsa-miR-699</text>
<text transform="translate(412.2 710.5) rotate(90)">hsa-miR-564</text>
<text transform="translate(417.5 710.5) rotate(90)">hsa-miR-470a</text>
<text transform="translate(422.8 710.5) rotate(90)">hsa-miR-406</text>
<text transform="translate(428.1 710.5) rotate(90)">hsa-miR-354</text>
<text transform="translate(433.4 710.5) rotate(90)">hsa-miR-913</text>
<text transform="translate(438.7 710.5) rotate(90)">hsa-miR-284</text>
<text transform="translate(444.0 710.5) rotate(90)">hsa-miR-815</text>
<text transform="translate(449.3 710.5) rotate(90)">hsa-miR-898</text>
<text transform="translate(454.6 710.5) rotate(90)">hsa-miR-349a-3p</text>
<text transform="translate(459.9 710.5) rotate(90)">hsa-miR-183</text>
<text transform="translate(465.2 710.5) rotate(90)">hsa-miR-688</text>
<text transform="translate(470.5 710.5) rotate(90)">hsa-miR-407a-5p</text>
<text transform="translate(475.8 710.5) rotate(90)">hsa-miR-637</text>
<text transform="translate(481.1 710.5) rotate(90)">hsa-miR-606</text>
<text transform="translate(486.4 710.5) rotate(90)">hsa-miR-996a</text>
<text transform="translate(491.7 710.5) rotate(90)">hsa-miR-451</text>
<text transform="translate(497.0 710.5) rotate(90)">hsa-miR-846</text>
<text transform="translate(502.3 710.5) rotate(90)">hsa-miR-559</text>
<text transform="translate(507.6 710.5) rotate(90)">hsa-miR-394a-3p</text>
<text transform="translate(512.9 710.5) rotate(90)">hsa-miR-723</text>
<text transform="translate(518.2 710.5) rotate(90)">hsa-miR-174</text>
<text transform="translate(523.4 710.5) rotate(90)">hsa-miR-220</text>
<text transform="translate(528.7 710.5) rotate(90)">hsa-miR-624</text>
<text transform="translate(534.0 710.5) rotate(90)">hsa-miR-528a</text>
<text transform="translate(539.3 710.5) rotate(90)">hsa-miR-268</text>
<text transform="translate(544.6 710.5) rotate(90)">hsa-miR-875</text>
<text transform="translate(549.9 710.5) rotate(90)">hsa-miR-450</text>
<text transform="translate(555.2 710.5) rotate(90)">hsa-miR-255a-5p</text>
<text transform="translate(560.5 710.5) rotate(90)">hsa-miR-600</text>
<text transform="translate(565.8 710.5) rotate(90)">hsa-miR-531</text>
<text transform="translate(571.1 710.5) rotate(90)">hsa-miR-140</text>
<text transform="translate(576.4 710.5) rotate(90)">hsa-miR-784</text>
<text transform="translate(581.7 710.5) rotate(90)">hsa-miR-179</text>
<text transform="translate(587.0 710.5) rotate(90)">hsa-miR-882</text>
<text transform="translate(592.3 710.5) rotate(90)">hsa-miR-671a-5p</text>
<text transform="translate(597.6 710.5) rotate(90)">hsa-miR-686</text>
<text transform="translate(602.9 710.5) rotate(90)">hsa-miR-908</text>
<text transform="translate(608.2 710.5) rotate(90)">hsa-miR-996</text>
<text transform="translate(613.5 710.5) rotate(90)">hsa-miR-937</text>
<text transform="translate(618.8 710.5) rotate(90)">hsa-miR-421a</text>
<text transform="translate(624.1 710.5) rotate(90)">hsa-miR-448</text>
<text transform="translate(629.4 710.5) rotate(90)">hsa-miR-811</text>
<text transform="translate(634.7 710.5) rotate(90)">hsa-miR-458a-3p</text>
<text transform="translate(640.0 710.5) rotate(90)">hsa-miR-708</text>
<text transform="translate(645.2 710.5) rotate(90)">hsa-miR-608</text>
<text transform="translate(650.5 710.5) rotate(90)">hsa-miR-693a</text>
<text transform="translate(655.8 710.5) rotate(90)">hsa-miR-916</text>
<text transform="translate(661.1 710.5) rotate(90)">hsa-miR-567</text>
<text transform="translate(666.4 710.5) rotate(90)">hsa-miR-170</text>
<text transform="translate(671.7 710.5) rotate(90)">hsa-miR-960</text>
<text transform="translate(677.0 710.5) rotate(90)">hsa-miR-195</text>
<text transform="translate(682.3 710.5) rotate(90)">hsa-miR-376</text>
<text transform="translate(687.6 710.5) rotate(90)">hsa-miR-585</text>
<text transform="translate(692.9 710.5) rotate(90)">hsa-miR-813</text>
<text transform="translate(698.2 710.5) rotate(90)">hsa-miR-780</text>
<text transform="translate(703.5 710.5) rotate(90)">hsa-miR-166</text>
<text transform="translate(708.8 710.5) rotate(90)">hsa-miR-162</text>
<text transform="translate(714.1 710.5) rotate(90)">hsa-miR-848a-5p</text>
<text transform="translate(719.4 710.5) rotate(90)">hsa-miR-818</text>
<text transform="translate(724.7 710.5) rotate(90)">hsa-miR-417</text>
<text transform="translate(730.0 710.5) rotate(90)">hsa-miR-762</text>
<text transform="translate(735.3 710.5) rotate(90)">hsa-miR-691a-3p</text>
<text transform="translate(740.6 710.5) rotate(90)">hsv1-miR-H8</text>
<text transform="translate(745.9 710.5) rotate(90)">hcmv-miR-U7</text>
<text transform="translate(751.2 710.5) rotate(90)">hsv1-miR-H6</text>
<text transform="translate(756.5 710.5) rotate(90)">kshv-miR-K8a-5p</text>
<text transform="translate(761.8 710.5) rotate(90)">hsv1-miR-H3</text>
<text transform="translate(767.1 710.5) rotate(90)">ebv-miR-B2</text>
</g>
</svg></body></html>
